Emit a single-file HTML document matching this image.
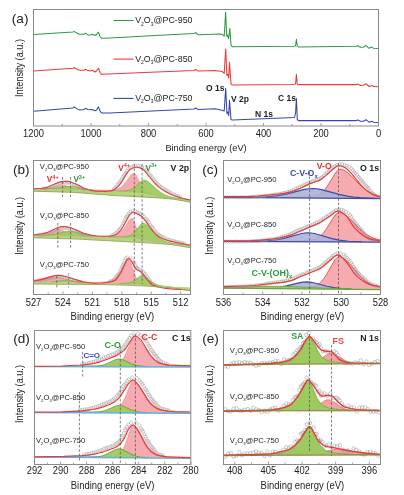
<!DOCTYPE html><html><head><meta charset="utf-8"><style>html,body{margin:0;padding:0;background:#fff;overflow:hidden}svg{display:block;filter:blur(0.4px)}</style></head><body><svg width="404" height="495" viewBox="0 0 404 495" font-family='"Liberation Sans", sans-serif'>
<rect width="404" height="495" fill="#ffffff"/>
<path d="M33.5,34.4 73,32 74,31.4 78,33.7 80,34.3 84,34.2 85.5,33.3 88,34.9 90.5,35.1 92.5,34.3 95,35.5 96.5,34.5 98.4,32.2 100,36.5 101.5,38.2 110,37.9 160,35.2 194,33.6 195.8,32.4 197.5,34.6 199,34.8 220,34.1 222.5,34.6 224.2,36.2 225.6,12.2 226.8,36.3 227.6,35.2 228.6,38.8 229.8,28.3 231,44.8 232.2,46.7 294.5,46.3 295.6,45.5 296.4,39.3 297.3,46.2 298.5,46.9 356,46.2 357.8,45.8 360.5,47.3 363.5,47.2 366,45.3 369,48.3 371.7,47.1 373.5,48.3 378.5,48.4" fill="none" stroke="#2f9a45" stroke-width="1.05" stroke-linejoin="round"/>
<path d="M33.5,70.9 73,68.3 74,67.5 78,69.8 80,70.3 84,70.3 85.5,69.3 88,70.6 90.5,70.9 92.5,70.3 95,72 96.5,71 98.5,68.3 100,72.5 101.5,74.3 194,70.5 195.8,69.3 197.5,70.9 199,71 215,70.5 222,71.4 224.2,73.4 225.7,49.1 226.9,75.6 227.8,74.1 228.7,78 229.5,62.3 231,83.9 232.2,85 294.5,84.4 295.6,83.5 296.4,74.2 297.3,84.3 298.5,84.6 356,84.6 357.8,84 360.5,85.5 363.5,85.3 366,83.6 369,86.5 371.7,85.4 373.5,86.6 378.5,86.7" fill="none" stroke="#ee3a36" stroke-width="1.05" stroke-linejoin="round"/>
<path d="M33.5,111.3 73,107.9 74,106.9 78,109.4 80,109.9 84,109.6 85.5,108.3 88,109.4 90.5,109.7 92.5,109.5 95,110.9 96.5,110 98.5,106.9 100,111 101.5,112.9 110,112.9 194,109 195.8,108 197.5,109.3 199,109.4 215,108.8 222,110.2 224.2,111 225.7,88.4 226.9,113.4 227.8,112 228.7,115.5 229.5,100.2 231,119.5 232.2,120 294.5,117.5 295.6,113 296.4,98.5 297.3,119.5 298.5,120.6 356,120.6 357.8,120 360.5,121.3 363.5,121.2 366,119.7 369,122.2 371.7,121.2 373.5,122.3 378.5,122.4" fill="none" stroke="#3547a8" stroke-width="1.05" stroke-linejoin="round"/>
<rect x="33.5" y="9.5" width="345" height="116.5" fill="none" stroke="#8a8a8a" stroke-width="1"/>
<path d="M62.25,126 v-2 M119.75,126 v-2 M177.25,126 v-2 M234.75,126 v-2 M292.25,126 v-2 M349.75,126 v-2 M33.5,126 v-3 M91,126 v-3 M148.5,126 v-3 M206,126 v-3 M263.5,126 v-3 M321,126 v-3 M378.5,126 v-3" stroke="#8a8a8a" stroke-width="0.8" fill="none"/>
<text transform="translate(33.5,136.9) scale(0.83,1)" font-size="11.3" fill="#222222" text-anchor="middle">1200</text>
<text transform="translate(91,136.9) scale(0.83,1)" font-size="11.3" fill="#222222" text-anchor="middle">1000</text>
<text transform="translate(148.5,136.9) scale(0.83,1)" font-size="11.3" fill="#222222" text-anchor="middle">800</text>
<text transform="translate(206,136.9) scale(0.83,1)" font-size="11.3" fill="#222222" text-anchor="middle">600</text>
<text transform="translate(263.5,136.9) scale(0.83,1)" font-size="11.3" fill="#222222" text-anchor="middle">400</text>
<text transform="translate(321,136.9) scale(0.83,1)" font-size="11.3" fill="#222222" text-anchor="middle">200</text>
<text transform="translate(378.5,136.9) scale(0.83,1)" font-size="11.3" fill="#222222" text-anchor="middle">0</text>
<path d="M113.5,20.5 H133.5" stroke="#2f9a45" stroke-width="1.1"/>
<text x="135.2" y="23.2" font-size="8.85" fill="#222222">V<tspan font-size="4.96" dy="2.3">2</tspan><tspan dy="-2.3">O</tspan><tspan font-size="4.96" dy="2.3">3</tspan><tspan dy="-2.3">@PC-950</tspan></text>
<path d="M113.5,59.1 H133.5" stroke="#ee3a36" stroke-width="1.1"/>
<text x="135.2" y="62" font-size="8.85" fill="#222222">V<tspan font-size="4.96" dy="2.3">2</tspan><tspan dy="-2.3">O</tspan><tspan font-size="4.96" dy="2.3">3</tspan><tspan dy="-2.3">@PC-850</tspan></text>
<path d="M113.5,98.4 H133.5" stroke="#3547a8" stroke-width="1.1"/>
<text x="135.2" y="101" font-size="8.85" fill="#222222">V<tspan font-size="4.96" dy="2.3">2</tspan><tspan dy="-2.3">O</tspan><tspan font-size="4.96" dy="2.3">3</tspan><tspan dy="-2.3">@PC-750</tspan></text>
<text x="206" y="90.8" font-size="8.5" fill="#222" text-anchor="start" font-weight="bold" >O 1s</text>
<text x="231" y="102.4" font-size="8.5" fill="#222" text-anchor="start" font-weight="bold" >V 2p</text>
<text x="278" y="100.6" font-size="8.5" fill="#222" text-anchor="start" font-weight="bold" >C 1s</text>
<text x="255" y="116.6" font-size="8.5" fill="#222" text-anchor="start" font-weight="bold" >N 1s</text>
<text x="206" y="150.6" font-size="9.2" fill="#222222" text-anchor="middle" font-weight="normal" >Binding energy (eV)</text>
<text x="11.8" y="22.9" font-size="13.6" fill="#222222" text-anchor="start" font-weight="normal" >(a)</text>
<text transform="translate(23.2,68) rotate(-90) scale(0.88,1)" font-size="10.4" fill="#222222" text-anchor="middle">Intensity (a.u.)</text>
<path d="M33.5,189 67,190.1 106.5,191 129.5,192.1 135.5,192.5 140,193.2 164.5,197.7 173,198.6 190.5,200 190.5,202.2 173.5,199.2 159,197.9 114,195.5 74,192.4 33.5,191.2Z" fill="#b2d67c" stroke="none"/>
<path d="M33.5,188.8 41,188.7 46.5,188.3 51,187.5 59,185.2 62.5,185 65.5,185.6 74.5,188.6 80.5,189.7 88,190.2 121,191.5 135,192.5 141.5,193.4 164.5,197.7 173,198.6 190.5,200 173.5,198.7 164.5,197.7 140,193.2 135.5,192.5 129.5,192.1 106.5,191 67,190.1 33.5,189Z" fill="#f5abb0" fill-opacity="1"/>
<path d="M36,188.8 42.5,188.7 47,188.2 51,187.5 58.5,185.3 62,185 65.5,185.6 73,188.1 77,189.1 81.5,189.8 88,190.2" fill="none" stroke="#ef8a8f" stroke-width="0.6"/>
<path d="M33.5,188.8 43.5,188.9 50.5,188.7 56.5,188.1 67,186.4 72,186.3 76,186.8 86,188.9 91.5,189.8 98.5,190.4 123.5,191.6 135.5,192.5 142,193.4 164,197.6 173,198.6 190.5,200 173.5,198.7 164.5,197.7 140,193.2 135.5,192.5 129.5,192.1 106.5,191 67,190.1 33.5,189Z" fill="#9dca5f" fill-opacity="0.95"/>
<path d="M40,188.9 46.5,188.9 52,188.6 57,188 66.5,186.5 71,186.2 75.5,186.7 84.5,188.7 89.5,189.5 95,190.1 101.5,190.5" fill="none" stroke="#72aa40" stroke-width="0.6"/>
<path d="M33.5,188.9 63,189.9 81.5,190.2 105.5,190.3 111,190.1 114.5,189.7 116.5,189.3 118.5,188.6 120.5,187.5 122,186.4 125,183.3 131,175.1 132.5,173.8 134,173.4 135,173.8 136.5,175.8 141,185 143,188.3 145.5,191.1 147,192.3 148.5,193.1 151,194.1 155.5,195.4 164,197.3 173.5,198.5 190.5,199.9 174.5,198.8 164.5,197.7 140,193.2 135.5,192.5 129.5,192.1 106.5,191 67,190.1 33.5,189Z" fill="#f5abb0" fill-opacity="1"/>
<path d="M90.5,190.3 110.5,190.1 115,189.7 118,188.8 120.5,187.5 123,185.5 125.5,182.6 131,175.1 132.5,173.8 134,173.4 135,173.8 136.5,175.8 140.5,184 142.5,187.6 144.5,190.2 146.5,191.9 149.5,193.5 153.5,194.9 160.5,196.6 166.5,197.7" fill="none" stroke="#ef8a8f" stroke-width="0.6"/>
<path d="M33.5,189 73.5,190.2 117,190.9 125.5,190.8 129.5,190.1 132.5,188.8 135.5,186.7 141.5,181 143,180.2 144,180.1 146,180.6 148.5,182.1 151,184.1 156.5,189.1 159.5,191.6 163,193.9 166,195.4 170,196.7 174.5,197.7 180,198.5 190.5,199.6 190.5,200 173.5,198.7 165,197.8 160.5,197.1 139.5,193.1 135.5,192.5 129,192 106.5,191 67,190.1 33.5,189Z" fill="#9dca5f" fill-opacity="0.95"/>
<path d="M110,190.8 124,190.9 127.5,190.5 130,189.9 132.5,188.8 134.5,187.5 141.5,181 143,180.2 144,180.1 146,180.6 148.5,182.1 151,184.1 156.5,189.1 159.5,191.6 163,193.9 166,195.4 170,196.7 174.5,197.7 180,198.5 190.5,199.6" fill="none" stroke="#72aa40" stroke-width="0.6"/>
<path d="M44.3,188.6a1.35,1.35 0 1,0 -2.7,0a1.35,1.35 0 1,0 2.7,0M46.3,188.4a1.35,1.35 0 1,0 -2.7,0a1.35,1.35 0 1,0 2.7,0M48.2,188.3a1.35,1.35 0 1,0 -2.7,0a1.35,1.35 0 1,0 2.7,0M50.2,187.6a1.35,1.35 0 1,0 -2.7,0a1.35,1.35 0 1,0 2.7,0M52.1,187.1a1.35,1.35 0 1,0 -2.7,0a1.35,1.35 0 1,0 2.7,0M54,186.5a1.35,1.35 0 1,0 -2.7,0a1.35,1.35 0 1,0 2.7,0M55.7,185.9a1.35,1.35 0 1,0 -2.7,0a1.35,1.35 0 1,0 2.7,0M57.4,185.2a1.35,1.35 0 1,0 -2.7,0a1.35,1.35 0 1,0 2.7,0M59.2,184.4a1.35,1.35 0 1,0 -2.7,0a1.35,1.35 0 1,0 2.7,0M60.9,183.7a1.35,1.35 0 1,0 -2.7,0a1.35,1.35 0 1,0 2.7,0M62.5,183.2a1.35,1.35 0 1,0 -2.7,0a1.35,1.35 0 1,0 2.7,0M64.1,183a1.35,1.35 0 1,0 -2.7,0a1.35,1.35 0 1,0 2.7,0M65.9,183a1.35,1.35 0 1,0 -2.7,0a1.35,1.35 0 1,0 2.7,0M67.7,183a1.35,1.35 0 1,0 -2.7,0a1.35,1.35 0 1,0 2.7,0M69.4,182.9a1.35,1.35 0 1,0 -2.7,0a1.35,1.35 0 1,0 2.7,0M71.1,183.2a1.35,1.35 0 1,0 -2.7,0a1.35,1.35 0 1,0 2.7,0M72.8,184a1.35,1.35 0 1,0 -2.7,0a1.35,1.35 0 1,0 2.7,0M74.6,184.8a1.35,1.35 0 1,0 -2.7,0a1.35,1.35 0 1,0 2.7,0M76.3,185.2a1.35,1.35 0 1,0 -2.7,0a1.35,1.35 0 1,0 2.7,0M77.9,186a1.35,1.35 0 1,0 -2.7,0a1.35,1.35 0 1,0 2.7,0M79.6,187a1.35,1.35 0 1,0 -2.7,0a1.35,1.35 0 1,0 2.7,0M81.3,187.4a1.35,1.35 0 1,0 -2.7,0a1.35,1.35 0 1,0 2.7,0M83.2,188.6a1.35,1.35 0 1,0 -2.7,0a1.35,1.35 0 1,0 2.7,0M85,189a1.35,1.35 0 1,0 -2.7,0a1.35,1.35 0 1,0 2.7,0M86.8,189.4a1.35,1.35 0 1,0 -2.7,0a1.35,1.35 0 1,0 2.7,0M115.1,189a1.35,1.35 0 1,0 -2.7,0a1.35,1.35 0 1,0 2.7,0M116.3,187.4a1.35,1.35 0 1,0 -2.7,0a1.35,1.35 0 1,0 2.7,0M117.6,186.4a1.35,1.35 0 1,0 -2.7,0a1.35,1.35 0 1,0 2.7,0M118.7,184.6a1.35,1.35 0 1,0 -2.7,0a1.35,1.35 0 1,0 2.7,0M119.9,183.2a1.35,1.35 0 1,0 -2.7,0a1.35,1.35 0 1,0 2.7,0M121,182a1.35,1.35 0 1,0 -2.7,0a1.35,1.35 0 1,0 2.7,0M122,180.4a1.35,1.35 0 1,0 -2.7,0a1.35,1.35 0 1,0 2.7,0M123,178.8a1.35,1.35 0 1,0 -2.7,0a1.35,1.35 0 1,0 2.7,0M124,176.8a1.35,1.35 0 1,0 -2.7,0a1.35,1.35 0 1,0 2.7,0M125,175.2a1.35,1.35 0 1,0 -2.7,0a1.35,1.35 0 1,0 2.7,0M126,173.7a1.35,1.35 0 1,0 -2.7,0a1.35,1.35 0 1,0 2.7,0M127,172.2a1.35,1.35 0 1,0 -2.7,0a1.35,1.35 0 1,0 2.7,0M128.1,170.6a1.35,1.35 0 1,0 -2.7,0a1.35,1.35 0 1,0 2.7,0M129.5,168.6a1.35,1.35 0 1,0 -2.7,0a1.35,1.35 0 1,0 2.7,0M131.2,167.5a1.35,1.35 0 1,0 -2.7,0a1.35,1.35 0 1,0 2.7,0M133,166.5a1.35,1.35 0 1,0 -2.7,0a1.35,1.35 0 1,0 2.7,0M134.9,165.8a1.35,1.35 0 1,0 -2.7,0a1.35,1.35 0 1,0 2.7,0M137.2,165.5a1.35,1.35 0 1,0 -2.7,0a1.35,1.35 0 1,0 2.7,0M139.5,165.7a1.35,1.35 0 1,0 -2.7,0a1.35,1.35 0 1,0 2.7,0M141.6,166a1.35,1.35 0 1,0 -2.7,0a1.35,1.35 0 1,0 2.7,0M143.6,166.9a1.35,1.35 0 1,0 -2.7,0a1.35,1.35 0 1,0 2.7,0M145.6,167.8a1.35,1.35 0 1,0 -2.7,0a1.35,1.35 0 1,0 2.7,0M147.5,170.1a1.35,1.35 0 1,0 -2.7,0a1.35,1.35 0 1,0 2.7,0M148.8,171.3a1.35,1.35 0 1,0 -2.7,0a1.35,1.35 0 1,0 2.7,0M150,172.6a1.35,1.35 0 1,0 -2.7,0a1.35,1.35 0 1,0 2.7,0M151.2,174.8a1.35,1.35 0 1,0 -2.7,0a1.35,1.35 0 1,0 2.7,0M152.3,175.8a1.35,1.35 0 1,0 -2.7,0a1.35,1.35 0 1,0 2.7,0M153.5,177a1.35,1.35 0 1,0 -2.7,0a1.35,1.35 0 1,0 2.7,0M154.7,178.9a1.35,1.35 0 1,0 -2.7,0a1.35,1.35 0 1,0 2.7,0M155.9,180a1.35,1.35 0 1,0 -2.7,0a1.35,1.35 0 1,0 2.7,0M157.1,181.8a1.35,1.35 0 1,0 -2.7,0a1.35,1.35 0 1,0 2.7,0M158.3,182.6a1.35,1.35 0 1,0 -2.7,0a1.35,1.35 0 1,0 2.7,0M159.6,184.2a1.35,1.35 0 1,0 -2.7,0a1.35,1.35 0 1,0 2.7,0M160.9,185.5a1.35,1.35 0 1,0 -2.7,0a1.35,1.35 0 1,0 2.7,0M162.3,186.6a1.35,1.35 0 1,0 -2.7,0a1.35,1.35 0 1,0 2.7,0M163.7,187.7a1.35,1.35 0 1,0 -2.7,0a1.35,1.35 0 1,0 2.7,0M165.3,188.5a1.35,1.35 0 1,0 -2.7,0a1.35,1.35 0 1,0 2.7,0M166.8,189.6a1.35,1.35 0 1,0 -2.7,0a1.35,1.35 0 1,0 2.7,0M168.4,190.4a1.35,1.35 0 1,0 -2.7,0a1.35,1.35 0 1,0 2.7,0M169.9,191.5a1.35,1.35 0 1,0 -2.7,0a1.35,1.35 0 1,0 2.7,0M171.5,192.3a1.35,1.35 0 1,0 -2.7,0a1.35,1.35 0 1,0 2.7,0M173.1,193.2a1.35,1.35 0 1,0 -2.7,0a1.35,1.35 0 1,0 2.7,0M174.7,194.2a1.35,1.35 0 1,0 -2.7,0a1.35,1.35 0 1,0 2.7,0M176.4,194.7a1.35,1.35 0 1,0 -2.7,0a1.35,1.35 0 1,0 2.7,0M178.2,195.6a1.35,1.35 0 1,0 -2.7,0a1.35,1.35 0 1,0 2.7,0M179.9,196.2a1.35,1.35 0 1,0 -2.7,0a1.35,1.35 0 1,0 2.7,0M181.7,196.9a1.35,1.35 0 1,0 -2.7,0a1.35,1.35 0 1,0 2.7,0" fill="none" stroke="#9a9a9a" stroke-width="0.45"/>
<path d="M33.5,188.8 42,188.2 46,187.6 48.5,186.8 54,184.3 60,181.9 62,181.5 67,181.3 70,181.7 75,183.5 77,184.4 84,188.2 88.5,189.7 92,190.6 96.5,191.1 105,191.4 108,191.2 112,190.6 113.5,190.1 115.5,188.8 120,184.3 121.5,182.2 124.5,177.1 127.5,172.4 129.5,170 131.5,168.7 133.5,167.7 135,167.3 136.5,167.2 138.5,167.5 140.5,168.1 142.5,168.9 143.5,169.7 145.5,171.8 149.5,177 155,183.5 159.5,187.6 164.5,191.1 169.5,193.8 175,196 181.5,198 190.5,200.3" fill="none" stroke="#e83a38" stroke-width="1.15" stroke-linejoin="round"/>
<path d="M33.5,191.2 74,192.4 114,195.5 159,197.9 173.5,199.2 190.5,202.2" fill="none" stroke="#86a04a" stroke-width="0.8"/>
<path d="M33.5,235.5 66.5,236.4 103,237 130,238.1 139,239 158.5,242.5 164.5,243.4 173,244.3 190.5,245.8 190.5,247.8 178,245.6 172,244.7 151.5,243.1 78,239.1 33.5,237.8Z" fill="#b2d67c" stroke="none"/>
<path d="M33.5,235.1 40,234.9 44.5,234.3 48.5,233.2 56,230.2 58,229.8 59.5,229.8 62.5,230.5 68.5,233.3 71.5,234.4 74.5,235.3 78,235.8 85,236.3 120.5,237.6 135,238.5 140,239.1 164,243.4 173,244.3 190.5,245.8 173.5,244.4 164.5,243.4 158.5,242.5 139,239 130,238.1 103,237 66.5,236.4 33.5,235.5Z" fill="#f5abb0" fill-opacity="1"/>
<path d="M33.5,235.1 40,234.9 44.5,234.3 48.5,233.2 56,230.2 57.5,229.8 59,229.8 60.5,229.9 62,230.3 69.5,233.7 74,235.2 79,236 86.5,236.4" fill="none" stroke="#ef8a8f" stroke-width="0.6"/>
<path d="M33.5,235.2 43.5,235.2 50.5,234.8 56.5,233.8 66.5,231.4 69,231.1 71.5,231 75.5,231.7 87,234.8 93,235.8 100,236.4 126,237.8 135.5,238.5 140,239.1 164,243.3 173,244.3 190.5,245.8 173.5,244.4 164.5,243.4 158.5,242.5 139,239 130,238.1 103,237 66.5,236.4 33.5,235.5Z" fill="#9dca5f" fill-opacity="0.95"/>
<path d="M35.5,235.3 44.5,235.2 51,234.7 56.5,233.8 66.5,231.4 69,231.1 71,231 75.5,231.7 85,234.3 90.5,235.4 96.5,236.2 106,236.8" fill="none" stroke="#72aa40" stroke-width="0.6"/>
<path d="M33.5,235.4 62,236.2 79.5,236.4 106,236.4 111,236.2 114,235.8 116,235.3 118,234.5 119.5,233.6 121,232.3 122.5,230.6 124,228.6 129.5,219.9 131,218.5 132,218.3 132.5,218.4 133.5,219.8 137,229.5 139,234 141,236.7 142,237.5 143.5,238.4 146,239.4 149.5,240.3 163,243 172.5,244.2 190.5,245.7 174,244.4 164.5,243.4 158.5,242.5 139,239 130,238.1 103,237 66.5,236.4 33.5,235.5Z" fill="#f5abb0" fill-opacity="1"/>
<path d="M91.5,236.5 110.5,236.2 114.5,235.7 117.5,234.7 120,233.2 122,231.2 124,228.6 129.5,219.9 131,218.5 132,218.3 132.5,218.4 133.5,219.8 138,232 139.5,234.8 141,236.7 143,238.1 145.5,239.2 149,240.2 156.5,241.9" fill="none" stroke="#ef8a8f" stroke-width="0.6"/>
<path d="M33.5,235.5 73,236.5 117,236.9 125.5,236.6 127.5,236.3 129.5,235.7 131,235 132.5,234 135,231.6 140.5,224.7 142,223.5 143,223.2 145,223.8 147,225.2 157.5,236.3 160.5,238.7 164,240.7 168,242.2 173,243.3 179,244.1 190.5,245.4 190.5,245.8 165,243.5 158.5,242.5 139,239 129.5,238.1 103,237 66.5,236.4 33.5,235.5Z" fill="#9dca5f" fill-opacity="0.95"/>
<path d="M108,236.8 123,236.8 126.5,236.5 129.5,235.7 131.5,234.7 133.5,233.1 135.5,231 140.5,224.7 142,223.5 143,223.2 145,223.8 147,225.2 157.5,236.3 160.5,238.7 164,240.7 168,242.2 173,243.3 179,244.1 190.5,245.4" fill="none" stroke="#72aa40" stroke-width="0.6"/>
<path d="M40.5,234.9a1.35,1.35 0 1,0 -2.7,0a1.35,1.35 0 1,0 2.7,0M42.4,234.8a1.35,1.35 0 1,0 -2.7,0a1.35,1.35 0 1,0 2.7,0M44.4,234.5a1.35,1.35 0 1,0 -2.7,0a1.35,1.35 0 1,0 2.7,0M46.3,234.2a1.35,1.35 0 1,0 -2.7,0a1.35,1.35 0 1,0 2.7,0M48.3,233.8a1.35,1.35 0 1,0 -2.7,0a1.35,1.35 0 1,0 2.7,0M50.3,233.3a1.35,1.35 0 1,0 -2.7,0a1.35,1.35 0 1,0 2.7,0M52.2,232.5a1.35,1.35 0 1,0 -2.7,0a1.35,1.35 0 1,0 2.7,0M53.9,231.7a1.35,1.35 0 1,0 -2.7,0a1.35,1.35 0 1,0 2.7,0M55.6,230.9a1.35,1.35 0 1,0 -2.7,0a1.35,1.35 0 1,0 2.7,0M57.3,230.1a1.35,1.35 0 1,0 -2.7,0a1.35,1.35 0 1,0 2.7,0M59,229.4a1.35,1.35 0 1,0 -2.7,0a1.35,1.35 0 1,0 2.7,0M60.7,228.8a1.35,1.35 0 1,0 -2.7,0a1.35,1.35 0 1,0 2.7,0M62.2,228.2a1.35,1.35 0 1,0 -2.7,0a1.35,1.35 0 1,0 2.7,0M63.8,228.1a1.35,1.35 0 1,0 -2.7,0a1.35,1.35 0 1,0 2.7,0M65.5,228.2a1.35,1.35 0 1,0 -2.7,0a1.35,1.35 0 1,0 2.7,0M67.4,228.5a1.35,1.35 0 1,0 -2.7,0a1.35,1.35 0 1,0 2.7,0M69.1,228.5a1.35,1.35 0 1,0 -2.7,0a1.35,1.35 0 1,0 2.7,0M70.8,229.1a1.35,1.35 0 1,0 -2.7,0a1.35,1.35 0 1,0 2.7,0M72.6,229.8a1.35,1.35 0 1,0 -2.7,0a1.35,1.35 0 1,0 2.7,0M74.4,230.4a1.35,1.35 0 1,0 -2.7,0a1.35,1.35 0 1,0 2.7,0M76.1,231.1a1.35,1.35 0 1,0 -2.7,0a1.35,1.35 0 1,0 2.7,0M77.8,231.7a1.35,1.35 0 1,0 -2.7,0a1.35,1.35 0 1,0 2.7,0M79.5,232.5a1.35,1.35 0 1,0 -2.7,0a1.35,1.35 0 1,0 2.7,0M81.2,233.3a1.35,1.35 0 1,0 -2.7,0a1.35,1.35 0 1,0 2.7,0M83,233.8a1.35,1.35 0 1,0 -2.7,0a1.35,1.35 0 1,0 2.7,0M84.9,234.7a1.35,1.35 0 1,0 -2.7,0a1.35,1.35 0 1,0 2.7,0M86.8,235.1a1.35,1.35 0 1,0 -2.7,0a1.35,1.35 0 1,0 2.7,0M88.7,235.2a1.35,1.35 0 1,0 -2.7,0a1.35,1.35 0 1,0 2.7,0M90.6,235.6a1.35,1.35 0 1,0 -2.7,0a1.35,1.35 0 1,0 2.7,0M92.5,235.9a1.35,1.35 0 1,0 -2.7,0a1.35,1.35 0 1,0 2.7,0M113.4,234.9a1.35,1.35 0 1,0 -2.7,0a1.35,1.35 0 1,0 2.7,0M115.1,234.5a1.35,1.35 0 1,0 -2.7,0a1.35,1.35 0 1,0 2.7,0M116.6,233.4a1.35,1.35 0 1,0 -2.7,0a1.35,1.35 0 1,0 2.7,0M117.9,232.2a1.35,1.35 0 1,0 -2.7,0a1.35,1.35 0 1,0 2.7,0M119.2,230.8a1.35,1.35 0 1,0 -2.7,0a1.35,1.35 0 1,0 2.7,0M120.4,229.7a1.35,1.35 0 1,0 -2.7,0a1.35,1.35 0 1,0 2.7,0M121.5,228.5a1.35,1.35 0 1,0 -2.7,0a1.35,1.35 0 1,0 2.7,0M122.5,227a1.35,1.35 0 1,0 -2.7,0a1.35,1.35 0 1,0 2.7,0M123.5,225.3a1.35,1.35 0 1,0 -2.7,0a1.35,1.35 0 1,0 2.7,0M124.4,223.4a1.35,1.35 0 1,0 -2.7,0a1.35,1.35 0 1,0 2.7,0M125.3,221.6a1.35,1.35 0 1,0 -2.7,0a1.35,1.35 0 1,0 2.7,0M126.2,219.7a1.35,1.35 0 1,0 -2.7,0a1.35,1.35 0 1,0 2.7,0M127,217.6a1.35,1.35 0 1,0 -2.7,0a1.35,1.35 0 1,0 2.7,0M127.9,216.4a1.35,1.35 0 1,0 -2.7,0a1.35,1.35 0 1,0 2.7,0M128.9,214.8a1.35,1.35 0 1,0 -2.7,0a1.35,1.35 0 1,0 2.7,0M130.1,213.3a1.35,1.35 0 1,0 -2.7,0a1.35,1.35 0 1,0 2.7,0M131.6,211.6a1.35,1.35 0 1,0 -2.7,0a1.35,1.35 0 1,0 2.7,0M134,210.5a1.35,1.35 0 1,0 -2.7,0a1.35,1.35 0 1,0 2.7,0M136.8,211.1a1.35,1.35 0 1,0 -2.7,0a1.35,1.35 0 1,0 2.7,0M138.7,211.9a1.35,1.35 0 1,0 -2.7,0a1.35,1.35 0 1,0 2.7,0M140.3,212.5a1.35,1.35 0 1,0 -2.7,0a1.35,1.35 0 1,0 2.7,0M142.2,213.9a1.35,1.35 0 1,0 -2.7,0a1.35,1.35 0 1,0 2.7,0M144,214.9a1.35,1.35 0 1,0 -2.7,0a1.35,1.35 0 1,0 2.7,0M145.6,216.5a1.35,1.35 0 1,0 -2.7,0a1.35,1.35 0 1,0 2.7,0M147,218.4a1.35,1.35 0 1,0 -2.7,0a1.35,1.35 0 1,0 2.7,0M148.3,219.6a1.35,1.35 0 1,0 -2.7,0a1.35,1.35 0 1,0 2.7,0M149.4,221.1a1.35,1.35 0 1,0 -2.7,0a1.35,1.35 0 1,0 2.7,0M150.6,222.5a1.35,1.35 0 1,0 -2.7,0a1.35,1.35 0 1,0 2.7,0M151.6,224.7a1.35,1.35 0 1,0 -2.7,0a1.35,1.35 0 1,0 2.7,0M152.7,226.1a1.35,1.35 0 1,0 -2.7,0a1.35,1.35 0 1,0 2.7,0M153.8,227.4a1.35,1.35 0 1,0 -2.7,0a1.35,1.35 0 1,0 2.7,0M154.9,228.8a1.35,1.35 0 1,0 -2.7,0a1.35,1.35 0 1,0 2.7,0M156,230.5a1.35,1.35 0 1,0 -2.7,0a1.35,1.35 0 1,0 2.7,0M157.2,231.8a1.35,1.35 0 1,0 -2.7,0a1.35,1.35 0 1,0 2.7,0M158.5,233.1a1.35,1.35 0 1,0 -2.7,0a1.35,1.35 0 1,0 2.7,0M159.8,234.3a1.35,1.35 0 1,0 -2.7,0a1.35,1.35 0 1,0 2.7,0M161.1,235a1.35,1.35 0 1,0 -2.7,0a1.35,1.35 0 1,0 2.7,0M162.5,235.9a1.35,1.35 0 1,0 -2.7,0a1.35,1.35 0 1,0 2.7,0M163.9,236.9a1.35,1.35 0 1,0 -2.7,0a1.35,1.35 0 1,0 2.7,0M165.5,237.5a1.35,1.35 0 1,0 -2.7,0a1.35,1.35 0 1,0 2.7,0M167.2,238.6a1.35,1.35 0 1,0 -2.7,0a1.35,1.35 0 1,0 2.7,0M168.9,239.1a1.35,1.35 0 1,0 -2.7,0a1.35,1.35 0 1,0 2.7,0M170.7,239.6a1.35,1.35 0 1,0 -2.7,0a1.35,1.35 0 1,0 2.7,0M172.5,240.2a1.35,1.35 0 1,0 -2.7,0a1.35,1.35 0 1,0 2.7,0M174.3,240.5a1.35,1.35 0 1,0 -2.7,0a1.35,1.35 0 1,0 2.7,0M176.1,241a1.35,1.35 0 1,0 -2.7,0a1.35,1.35 0 1,0 2.7,0M178,241.5a1.35,1.35 0 1,0 -2.7,0a1.35,1.35 0 1,0 2.7,0M179.8,241.9a1.35,1.35 0 1,0 -2.7,0a1.35,1.35 0 1,0 2.7,0M181.7,242.4a1.35,1.35 0 1,0 -2.7,0a1.35,1.35 0 1,0 2.7,0M183.5,242.6a1.35,1.35 0 1,0 -2.7,0a1.35,1.35 0 1,0 2.7,0M185.4,243.1a1.35,1.35 0 1,0 -2.7,0a1.35,1.35 0 1,0 2.7,0" fill="none" stroke="#9a9a9a" stroke-width="0.45"/>
<path d="M33.5,234.8 42,233.7 46,232.9 48.5,232 53.5,229.5 59,227.2 60.5,226.7 62,226.5 67,226.9 70,227.5 76,229.7 84,233.5 91.5,235.3 97,236 104.5,236.3 109,236.1 113.5,235.5 115,235 116.5,234.2 118.5,232.7 120.5,230.9 122.5,227.8 129,215.7 130,214.4 131.5,212.9 132.5,212.3 133,212.2 134.5,212.5 139,214.8 140.5,215.7 142,216.8 145.5,220.8 149.5,226.6 153.5,231.8 157,235.3 159.5,237.2 164,239.3 170,241.1 190.5,245.2" fill="none" stroke="#e83a38" stroke-width="1.15" stroke-linejoin="round"/>
<path d="M33.5,237.8 78,239.1 151.5,243.1 172,244.7 178,245.6 190.5,247.8" fill="none" stroke="#86a04a" stroke-width="0.8"/>
<path d="M33.5,281.8 70.5,282.4 96,283.2 128.5,283.9 138.5,284.4 165,286.8 190.5,288.2 190.5,290.6 177,288.6 170.5,287.8 150,286.3 131,285.3 103,284.6 33.5,284Z" fill="#b2d67c" stroke="none"/>
<path d="M33.5,280.1 48,277.1 51,276.8 54,276.7 59,277.4 68.5,279.8 73.5,280.9 78.5,281.6 84.5,282.3 96.5,283 120,283.5 135.5,284.2 164,286.7 190.5,288.2 165,286.8 138.5,284.4 128.5,283.9 96,283.2 70.5,282.4 33.5,281.8Z" fill="#f5abb0" fill-opacity="1"/>
<path d="M33.5,280.1 48,277.1 51,276.8 54,276.7 58.5,277.3 69.5,280 76,281.3 83.5,282.2 93.5,282.8" fill="none" stroke="#ef8a8f" stroke-width="0.6"/>
<path d="M33.5,281.7 51,281.7 56,281.4 64,280.4 67.5,280.4 70.5,280.7 79.5,282.1 86,282.7 98,283.2 121.5,283.6 135,284.2 164,286.7 190.5,288.2 165,286.8 138.5,284.4 128.5,283.9 96,283.2 70.5,282.4 33.5,281.8Z" fill="#9dca5f" fill-opacity="0.95"/>
<path d="M50.5,281.8 56,281.4 64,280.4 67,280.3 70,280.6 78,281.9 83,282.5" fill="none" stroke="#72aa40" stroke-width="0.6"/>
<path d="M33.5,281.7 93.5,282.5 102.5,282.2 106,281.9 108.5,281.4 110.5,280.8 112.5,279.9 114.5,278.5 116,277.1 117.5,275.3 119.5,272.4 125.5,261.8 127,260.1 128,259.5 128.5,259.4 129,259.5 129.5,259.9 130.5,261.8 134.5,273.8 136.5,278.2 138.5,281 139.5,281.8 141,282.7 143.5,283.6 147,284.4 159,286 170,286.9 190.5,288.1 165,286.8 138.5,284.4 128.5,283.9 96,283.2 70.5,282.4 33.5,281.8Z" fill="#f5abb0" fill-opacity="1"/>
<path d="M77.5,282.3 92.5,282.5 101.5,282.3 107.5,281.6 109.5,281.2 111.5,280.4 114.5,278.5 117,275.9 120,271.5 125.5,261.8 127,260.1 128,259.5 128.5,259.4 129,259.5 129.5,259.9 130.5,261.8 134,272.4 136,277.3 137.5,279.8 139,281.4 141.5,283 144.5,283.9 149.5,284.8 159,286" fill="none" stroke="#ef8a8f" stroke-width="0.6"/>
<path d="M33.5,281.8 70.5,282.4 99.5,283.2 126,283.2 129.5,282.7 132.5,281.7 135,280.2 139.5,276.5 141,275.8 142,275.7 143.5,276.1 145,276.9 150.5,281 153.5,283 156.5,284.4 159.5,285.3 163.5,286.1 169,286.7 190.5,288.1 190.5,288.2 165.5,286.8 138.5,284.4 128,283.9 96,283.2 70.5,282.4 33.5,281.8Z" fill="#9dca5f" fill-opacity="0.95"/>
<path d="M119.5,283.3 127,283.1 129,282.8 131,282.3 133,281.5 134.5,280.5 140,276.2 141,275.8 142,275.7 143.5,276.1 145,276.9 152,282 154,283.2 156.5,284.4 159.5,285.3 162.5,285.9 172,286.9" fill="none" stroke="#72aa40" stroke-width="0.6"/>
<path d="M40.6,281.1a1.35,1.35 0 1,0 -2.7,0a1.35,1.35 0 1,0 2.7,0M42.5,280.6a1.35,1.35 0 1,0 -2.7,0a1.35,1.35 0 1,0 2.7,0M44.4,280.2a1.35,1.35 0 1,0 -2.7,0a1.35,1.35 0 1,0 2.7,0M46.3,280a1.35,1.35 0 1,0 -2.7,0a1.35,1.35 0 1,0 2.7,0M48.3,279.4a1.35,1.35 0 1,0 -2.7,0a1.35,1.35 0 1,0 2.7,0M50.2,278.9a1.35,1.35 0 1,0 -2.7,0a1.35,1.35 0 1,0 2.7,0M51.9,278.6a1.35,1.35 0 1,0 -2.7,0a1.35,1.35 0 1,0 2.7,0M53.6,278a1.35,1.35 0 1,0 -2.7,0a1.35,1.35 0 1,0 2.7,0M55.4,277.6a1.35,1.35 0 1,0 -2.7,0a1.35,1.35 0 1,0 2.7,0M57.1,277.1a1.35,1.35 0 1,0 -2.7,0a1.35,1.35 0 1,0 2.7,0M58.8,276.9a1.35,1.35 0 1,0 -2.7,0a1.35,1.35 0 1,0 2.7,0M60.5,276.9a1.35,1.35 0 1,0 -2.7,0a1.35,1.35 0 1,0 2.7,0M62.3,277.2a1.35,1.35 0 1,0 -2.7,0a1.35,1.35 0 1,0 2.7,0M64.1,277.5a1.35,1.35 0 1,0 -2.7,0a1.35,1.35 0 1,0 2.7,0M65.9,278a1.35,1.35 0 1,0 -2.7,0a1.35,1.35 0 1,0 2.7,0M67.7,278.3a1.35,1.35 0 1,0 -2.7,0a1.35,1.35 0 1,0 2.7,0M69.5,278.7a1.35,1.35 0 1,0 -2.7,0a1.35,1.35 0 1,0 2.7,0M71.3,279.4a1.35,1.35 0 1,0 -2.7,0a1.35,1.35 0 1,0 2.7,0M73.1,279.8a1.35,1.35 0 1,0 -2.7,0a1.35,1.35 0 1,0 2.7,0M75,280.3a1.35,1.35 0 1,0 -2.7,0a1.35,1.35 0 1,0 2.7,0M76.9,280.8a1.35,1.35 0 1,0 -2.7,0a1.35,1.35 0 1,0 2.7,0M78.7,281.2a1.35,1.35 0 1,0 -2.7,0a1.35,1.35 0 1,0 2.7,0M80.6,281.6a1.35,1.35 0 1,0 -2.7,0a1.35,1.35 0 1,0 2.7,0M82.5,281.9a1.35,1.35 0 1,0 -2.7,0a1.35,1.35 0 1,0 2.7,0M110.9,281.4a1.35,1.35 0 1,0 -2.7,0a1.35,1.35 0 1,0 2.7,0M112.7,280.8a1.35,1.35 0 1,0 -2.7,0a1.35,1.35 0 1,0 2.7,0M114.4,279.9a1.35,1.35 0 1,0 -2.7,0a1.35,1.35 0 1,0 2.7,0M115.9,279.2a1.35,1.35 0 1,0 -2.7,0a1.35,1.35 0 1,0 2.7,0M116.8,277.4a1.35,1.35 0 1,0 -2.7,0a1.35,1.35 0 1,0 2.7,0M117.9,276.2a1.35,1.35 0 1,0 -2.7,0a1.35,1.35 0 1,0 2.7,0M119,274.9a1.35,1.35 0 1,0 -2.7,0a1.35,1.35 0 1,0 2.7,0M120,273.5a1.35,1.35 0 1,0 -2.7,0a1.35,1.35 0 1,0 2.7,0M120.9,271.7a1.35,1.35 0 1,0 -2.7,0a1.35,1.35 0 1,0 2.7,0M121.8,269.8a1.35,1.35 0 1,0 -2.7,0a1.35,1.35 0 1,0 2.7,0M122.6,267.7a1.35,1.35 0 1,0 -2.7,0a1.35,1.35 0 1,0 2.7,0M123.4,266.6a1.35,1.35 0 1,0 -2.7,0a1.35,1.35 0 1,0 2.7,0M124.2,264.3a1.35,1.35 0 1,0 -2.7,0a1.35,1.35 0 1,0 2.7,0M124.9,263.1a1.35,1.35 0 1,0 -2.7,0a1.35,1.35 0 1,0 2.7,0M125.7,260.6a1.35,1.35 0 1,0 -2.7,0a1.35,1.35 0 1,0 2.7,0M126.7,258.4a1.35,1.35 0 1,0 -2.7,0a1.35,1.35 0 1,0 2.7,0M128.4,257.2a1.35,1.35 0 1,0 -2.7,0a1.35,1.35 0 1,0 2.7,0M131.9,257.2a1.35,1.35 0 1,0 -2.7,0a1.35,1.35 0 1,0 2.7,0M134.1,260.6a1.35,1.35 0 1,0 -2.7,0a1.35,1.35 0 1,0 2.7,0M135.2,262.3a1.35,1.35 0 1,0 -2.7,0a1.35,1.35 0 1,0 2.7,0M136.1,263.1a1.35,1.35 0 1,0 -2.7,0a1.35,1.35 0 1,0 2.7,0M137,265.3a1.35,1.35 0 1,0 -2.7,0a1.35,1.35 0 1,0 2.7,0M137.8,267.1a1.35,1.35 0 1,0 -2.7,0a1.35,1.35 0 1,0 2.7,0M138.6,267.9a1.35,1.35 0 1,0 -2.7,0a1.35,1.35 0 1,0 2.7,0M139.4,268.6a1.35,1.35 0 1,0 -2.7,0a1.35,1.35 0 1,0 2.7,0M141.2,269.3a1.35,1.35 0 1,0 -2.7,0a1.35,1.35 0 1,0 2.7,0M143.2,270.3a1.35,1.35 0 1,0 -2.7,0a1.35,1.35 0 1,0 2.7,0M144.8,272a1.35,1.35 0 1,0 -2.7,0a1.35,1.35 0 1,0 2.7,0M146.2,273.6a1.35,1.35 0 1,0 -2.7,0a1.35,1.35 0 1,0 2.7,0M147.5,274.7a1.35,1.35 0 1,0 -2.7,0a1.35,1.35 0 1,0 2.7,0M148.7,276.9a1.35,1.35 0 1,0 -2.7,0a1.35,1.35 0 1,0 2.7,0M149.9,278a1.35,1.35 0 1,0 -2.7,0a1.35,1.35 0 1,0 2.7,0M150.9,280a1.35,1.35 0 1,0 -2.7,0a1.35,1.35 0 1,0 2.7,0M151.9,281.4a1.35,1.35 0 1,0 -2.7,0a1.35,1.35 0 1,0 2.7,0M152.7,283.1a1.35,1.35 0 1,0 -2.7,0a1.35,1.35 0 1,0 2.7,0" fill="none" stroke="#9a9a9a" stroke-width="0.45"/>
<path d="M33.5,281.4 44.5,278.9 51.5,276.4 55.5,275.5 58,275.3 61,275.6 66,276.5 82,281.6 84.5,282.1 89.5,282.8 94.5,283.2 101,283 106.5,282.6 111,281.8 113,281.2 115,280.4 116,279.7 117.5,278 121,272.5 126.5,260.4 127.5,259.1 129,258.5 129.5,258.7 130.5,259.8 132.5,263 135.5,268.8 136.5,269.6 139.5,271 141,272.1 144.5,276 147.5,279.8 150.5,283.2 152,284.5 153.5,285.3 158,287 164.5,288.3 173.5,289.1 190.5,290" fill="none" stroke="#e83a38" stroke-width="1.15" stroke-linejoin="round"/>
<path d="M157.5,285.6 169,286.5 190.5,287.6 190.5,290.6 173.5,288.1 157.5,286.8Z" fill="#b2d67c" stroke="none"/>
<path d="M33.5,284 103,284.6 131,285.3 150,286.3 170.5,287.8 177,288.6 190.5,290.6" fill="none" stroke="#86a04a" stroke-width="0.8"/>
<path d="M62.6,177 V198.5" stroke="#555" stroke-width="0.75" stroke-dasharray="2.6,1.8" fill="none"/>
<path d="M70.5,177 V198.5" stroke="#555" stroke-width="0.75" stroke-dasharray="2.6,1.8" fill="none"/>
<path d="M57.8,223 V247.7" stroke="#555" stroke-width="0.75" stroke-dasharray="2.6,1.8" fill="none"/>
<path d="M70.6,223 V247.7" stroke="#555" stroke-width="0.75" stroke-dasharray="2.6,1.8" fill="none"/>
<path d="M56.8,275.9 V287.7" stroke="#555" stroke-width="0.75" stroke-dasharray="2.6,1.8" fill="none"/>
<path d="M68.6,273 V287.7" stroke="#777" stroke-width="0.75" stroke-dasharray="2.6,1.8" fill="none"/>
<path d="M134.3,164 V284" stroke="#555" stroke-width="0.75" stroke-dasharray="2.6,1.8" fill="none"/>
<path d="M142.1,164 V284" stroke="#555" stroke-width="0.75" stroke-dasharray="2.6,1.8" fill="none"/>
<rect x="33.5" y="160.5" width="157" height="134" fill="none" stroke="#8a8a8a" stroke-width="1"/>
<path d="M48.22,294.5 v-2 M77.66,294.5 v-2 M107.09,294.5 v-2 M136.53,294.5 v-2 M165.97,294.5 v-2 M33.5,294.5 v-3 M62.94,294.5 v-3 M92.38,294.5 v-3 M121.81,294.5 v-3 M151.25,294.5 v-3 M180.69,294.5 v-3" stroke="#8a8a8a" stroke-width="0.8" fill="none"/>
<text transform="translate(33.5,305.8) scale(0.83,1)" font-size="11.3" fill="#222222" text-anchor="middle">527</text>
<text transform="translate(62.94,305.8) scale(0.83,1)" font-size="11.3" fill="#222222" text-anchor="middle">524</text>
<text transform="translate(92.38,305.8) scale(0.83,1)" font-size="11.3" fill="#222222" text-anchor="middle">521</text>
<text transform="translate(121.81,305.8) scale(0.83,1)" font-size="11.3" fill="#222222" text-anchor="middle">518</text>
<text transform="translate(151.25,305.8) scale(0.83,1)" font-size="11.3" fill="#222222" text-anchor="middle">515</text>
<text transform="translate(180.69,305.8) scale(0.83,1)" font-size="11.3" fill="#222222" text-anchor="middle">512</text>
<text x="39.8" y="169.2" font-size="7.6" fill="#222222">V<tspan font-size="4.26" dy="1.98">2</tspan><tspan dy="-1.98">O</tspan><tspan font-size="4.26" dy="1.98">3</tspan><tspan dy="-1.98">@PC-950</tspan></text>
<text x="39.8" y="218.2" font-size="7.6" fill="#222222">V<tspan font-size="4.26" dy="1.98">2</tspan><tspan dy="-1.98">O</tspan><tspan font-size="4.26" dy="1.98">3</tspan><tspan dy="-1.98">@PC-850</tspan></text>
<text x="39.8" y="266.8" font-size="7.6" fill="#222222">V<tspan font-size="4.26" dy="1.98">2</tspan><tspan dy="-1.98">O</tspan><tspan font-size="4.26" dy="1.98">3</tspan><tspan dy="-1.98">@PC-750</tspan></text>
<text x="46.8" y="182.2" font-size="8.2" font-weight="bold" fill="#e53030">V<tspan font-size="5.6" dy="-3.4">4+</tspan></text>
<text x="73.4" y="182.2" font-size="8.2" font-weight="bold" fill="#2e9a3e">V<tspan font-size="5.6" dy="-3.4">3+</tspan></text>
<text x="118.2" y="170.8" font-size="8.2" font-weight="bold" fill="#e53030">V<tspan font-size="5.6" dy="-3.4">4+</tspan></text>
<text x="145.5" y="170.8" font-size="8.2" font-weight="bold" fill="#2e9a3e">V<tspan font-size="5.6" dy="-3.4">3+</tspan></text>
<text x="170.6" y="170.6" font-size="8.8" fill="#222" text-anchor="start" font-weight="bold" >V 2p</text>
<text transform="translate(112.4,320.0) scale(0.92,1)" font-size="10.3" fill="#222222" text-anchor="middle">Binding energy (eV)</text>
<text x="13" y="173.5" font-size="13.6" fill="#222222" text-anchor="start" font-weight="normal" >(b)</text>
<text transform="translate(23.2,225.9) rotate(-90) scale(0.88,1)" font-size="10.4" fill="#222222" text-anchor="middle">Intensity (a.u.)</text>
<path d="M223.5,197.2 269.5,197.5 294.5,197.4 307.5,197 311.5,196.6 314.5,196.1 317,195.4 319.5,194.2 321.5,192.8 323.5,191 325.5,188.7 327.5,186 334,175.2 336,172.2 337.5,170.6 338.5,169.8 339.5,169.4 340.5,169.3 342,169.5 344,170.2 345.5,171 347.5,172.5 351,175.7 360.5,185.5 364,188.6 367,190.8 370,192.6 373.5,194.2 377,195.4 380.5,196.3 380.5,198.6 223.5,197.3Z" fill="#f5abb0" fill-opacity="1"/>
<path d="M281,197.5 298.5,197.3 308.5,196.9 314,196.2 316.5,195.5 318.5,194.7 320.5,193.5 322,192.4 325,189.4 328,185.2 334,175.2 336,172.2 338,170.1 339,169.5 340,169.3 341.5,169.4 343.5,170 345.5,171 347.5,172.5 351,175.7 360.5,185.5 364,188.6 367,190.8 370,192.6 373.5,194.2 377,195.4 380.5,196.3" fill="none" stroke="#e83a38" stroke-width="0.8"/>
<path d="M223.5,197.2 256,197.2 265,196.9 272,196.4 278.5,195.6 284.5,194.5 300.5,190.3 305,189.3 309,188.7 313,188.5 317,188.8 321.5,189.6 339.5,194.6 345,195.8 350,196.6 355.5,197.3 362,197.8 380.5,198.3 380.5,198.6 223.5,197.3Z" fill="#a9b0da" fill-opacity="0.88"/>
<path d="M250,197.2 265.5,196.9 276.5,195.9 286,194.1 304.5,189.4 309,188.7 313,188.5 317,188.8 321.5,189.6 339,194.4 348.5,196.4 354,197.1 360,197.6 375.5,198.3" fill="none" stroke="#3b4ba6" stroke-width="1.1"/>
<path d="M223.5,197.3 380.5,198.6" fill="none" stroke="#3b4ba6" stroke-width="1.2"/>
<path d="M226.8,197.3a1.5,1.5 0 1,0 -3,0a1.5,1.5 0 1,0 3,0M228.9,197.5a1.5,1.5 0 1,0 -3,0a1.5,1.5 0 1,0 3,0M231,197.4a1.5,1.5 0 1,0 -3,0a1.5,1.5 0 1,0 3,0M233.1,197.2a1.5,1.5 0 1,0 -3,0a1.5,1.5 0 1,0 3,0M235.2,197.2a1.5,1.5 0 1,0 -3,0a1.5,1.5 0 1,0 3,0M237.3,197.2a1.5,1.5 0 1,0 -3,0a1.5,1.5 0 1,0 3,0M239.4,197.4a1.5,1.5 0 1,0 -3,0a1.5,1.5 0 1,0 3,0M241.5,197.3a1.5,1.5 0 1,0 -3,0a1.5,1.5 0 1,0 3,0M243.6,197.1a1.5,1.5 0 1,0 -3,0a1.5,1.5 0 1,0 3,0M245.7,197.3a1.5,1.5 0 1,0 -3,0a1.5,1.5 0 1,0 3,0M247.8,197.3a1.5,1.5 0 1,0 -3,0a1.5,1.5 0 1,0 3,0M249.9,197.1a1.5,1.5 0 1,0 -3,0a1.5,1.5 0 1,0 3,0M252,197a1.5,1.5 0 1,0 -3,0a1.5,1.5 0 1,0 3,0M254.1,197a1.5,1.5 0 1,0 -3,0a1.5,1.5 0 1,0 3,0M256.2,196.7a1.5,1.5 0 1,0 -3,0a1.5,1.5 0 1,0 3,0M258.3,196.5a1.5,1.5 0 1,0 -3,0a1.5,1.5 0 1,0 3,0M260.4,196.6a1.5,1.5 0 1,0 -3,0a1.5,1.5 0 1,0 3,0M262.5,196.3a1.5,1.5 0 1,0 -3,0a1.5,1.5 0 1,0 3,0M264.6,196a1.5,1.5 0 1,0 -3,0a1.5,1.5 0 1,0 3,0M266.7,195.9a1.5,1.5 0 1,0 -3,0a1.5,1.5 0 1,0 3,0M268.8,195.5a1.5,1.5 0 1,0 -3,0a1.5,1.5 0 1,0 3,0M270.9,195.4a1.5,1.5 0 1,0 -3,0a1.5,1.5 0 1,0 3,0M273,195.1a1.5,1.5 0 1,0 -3,0a1.5,1.5 0 1,0 3,0M275,194.7a1.5,1.5 0 1,0 -3,0a1.5,1.5 0 1,0 3,0M277.1,194.4a1.5,1.5 0 1,0 -3,0a1.5,1.5 0 1,0 3,0M279.2,194.1a1.5,1.5 0 1,0 -3,0a1.5,1.5 0 1,0 3,0M281.3,193.7a1.5,1.5 0 1,0 -3,0a1.5,1.5 0 1,0 3,0M283.3,193.4a1.5,1.5 0 1,0 -3,0a1.5,1.5 0 1,0 3,0M285.4,192.8a1.5,1.5 0 1,0 -3,0a1.5,1.5 0 1,0 3,0M287.4,192.4a1.5,1.5 0 1,0 -3,0a1.5,1.5 0 1,0 3,0M289.4,191.8a1.5,1.5 0 1,0 -3,0a1.5,1.5 0 1,0 3,0M291.4,191.4a1.5,1.5 0 1,0 -3,0a1.5,1.5 0 1,0 3,0M293.4,190.5a1.5,1.5 0 1,0 -3,0a1.5,1.5 0 1,0 3,0M295.3,189.7a1.5,1.5 0 1,0 -3,0a1.5,1.5 0 1,0 3,0M297.2,188.8a1.5,1.5 0 1,0 -3,0a1.5,1.5 0 1,0 3,0M299.1,188a1.5,1.5 0 1,0 -3,0a1.5,1.5 0 1,0 3,0M301,187.1a1.5,1.5 0 1,0 -3,0a1.5,1.5 0 1,0 3,0M302.9,186.4a1.5,1.5 0 1,0 -3,0a1.5,1.5 0 1,0 3,0M304.7,185.3a1.5,1.5 0 1,0 -3,0a1.5,1.5 0 1,0 3,0M306.6,184.5a1.5,1.5 0 1,0 -3,0a1.5,1.5 0 1,0 3,0M308.5,183.5a1.5,1.5 0 1,0 -3,0a1.5,1.5 0 1,0 3,0M310.5,182.4a1.5,1.5 0 1,0 -3,0a1.5,1.5 0 1,0 3,0M312.5,181.7a1.5,1.5 0 1,0 -3,0a1.5,1.5 0 1,0 3,0M314.5,181a1.5,1.5 0 1,0 -3,0a1.5,1.5 0 1,0 3,0M316.5,180.3a1.5,1.5 0 1,0 -3,0a1.5,1.5 0 1,0 3,0M318.5,179.9a1.5,1.5 0 1,0 -3,0a1.5,1.5 0 1,0 3,0M320.3,179a1.5,1.5 0 1,0 -3,0a1.5,1.5 0 1,0 3,0M322,178a1.5,1.5 0 1,0 -3,0a1.5,1.5 0 1,0 3,0M323.6,177a1.5,1.5 0 1,0 -3,0a1.5,1.5 0 1,0 3,0M325.2,175.7a1.5,1.5 0 1,0 -3,0a1.5,1.5 0 1,0 3,0M326.8,173.9a1.5,1.5 0 1,0 -3,0a1.5,1.5 0 1,0 3,0M328.4,172.6a1.5,1.5 0 1,0 -3,0a1.5,1.5 0 1,0 3,0M330,171.3a1.5,1.5 0 1,0 -3,0a1.5,1.5 0 1,0 3,0M331.5,170a1.5,1.5 0 1,0 -3,0a1.5,1.5 0 1,0 3,0M333.1,168.4a1.5,1.5 0 1,0 -3,0a1.5,1.5 0 1,0 3,0M334.7,167.2a1.5,1.5 0 1,0 -3,0a1.5,1.5 0 1,0 3,0M336.5,166a1.5,1.5 0 1,0 -3,0a1.5,1.5 0 1,0 3,0M338.5,164.7a1.5,1.5 0 1,0 -3,0a1.5,1.5 0 1,0 3,0M341,164.3a1.5,1.5 0 1,0 -3,0a1.5,1.5 0 1,0 3,0M343.6,164.2a1.5,1.5 0 1,0 -3,0a1.5,1.5 0 1,0 3,0M345.9,164.8a1.5,1.5 0 1,0 -3,0a1.5,1.5 0 1,0 3,0M348.4,165.7a1.5,1.5 0 1,0 -3,0a1.5,1.5 0 1,0 3,0M350.8,166.8a1.5,1.5 0 1,0 -3,0a1.5,1.5 0 1,0 3,0M352.8,168.6a1.5,1.5 0 1,0 -3,0a1.5,1.5 0 1,0 3,0M354.3,170.2a1.5,1.5 0 1,0 -3,0a1.5,1.5 0 1,0 3,0M355.8,171.9a1.5,1.5 0 1,0 -3,0a1.5,1.5 0 1,0 3,0M357.2,173.1a1.5,1.5 0 1,0 -3,0a1.5,1.5 0 1,0 3,0M358.6,175a1.5,1.5 0 1,0 -3,0a1.5,1.5 0 1,0 3,0M360,176.8a1.5,1.5 0 1,0 -3,0a1.5,1.5 0 1,0 3,0M361.3,178.2a1.5,1.5 0 1,0 -3,0a1.5,1.5 0 1,0 3,0M362.6,180.1a1.5,1.5 0 1,0 -3,0a1.5,1.5 0 1,0 3,0M363.8,181.4a1.5,1.5 0 1,0 -3,0a1.5,1.5 0 1,0 3,0M365.1,182.8a1.5,1.5 0 1,0 -3,0a1.5,1.5 0 1,0 3,0M366.4,184.4a1.5,1.5 0 1,0 -3,0a1.5,1.5 0 1,0 3,0M367.7,185.9a1.5,1.5 0 1,0 -3,0a1.5,1.5 0 1,0 3,0M369.1,187a1.5,1.5 0 1,0 -3,0a1.5,1.5 0 1,0 3,0M370.4,188.4a1.5,1.5 0 1,0 -3,0a1.5,1.5 0 1,0 3,0M371.4,190.6a1.5,1.5 0 1,0 -3,0a1.5,1.5 0 1,0 3,0M372.8,192a1.5,1.5 0 1,0 -3,0a1.5,1.5 0 1,0 3,0M374.2,193.4a1.5,1.5 0 1,0 -3,0a1.5,1.5 0 1,0 3,0M375.9,194.4a1.5,1.5 0 1,0 -3,0a1.5,1.5 0 1,0 3,0M377.6,195.7a1.5,1.5 0 1,0 -3,0a1.5,1.5 0 1,0 3,0M379.5,196.5a1.5,1.5 0 1,0 -3,0a1.5,1.5 0 1,0 3,0" fill="none" stroke="#8f8f8f" stroke-width="0.45"/>
<path d="M223.5,196.6 250,196.4 258,196 278.5,194.1 285,193.1 290.5,191.9 294.5,190.6 300.5,188.2 310,183.6 317,181.3 320,180.1 322,178.8 325.5,175.9 334,168.3 337,166.3 338,165.9 339,165.7 341,166 343,166.7 345.5,167.9 347,169 352,174.1 361,185.1 364,188.1 367.5,191.1 370,192.8 373.5,194.7 376,195.8 380.5,197.2" fill="none" stroke="#e83a38" stroke-width="1.2" stroke-linejoin="round"/>
<path d="M223.5,241.2 267.5,241.3 292.5,241.2 305.5,240.7 309.5,240.4 312.5,239.8 315,239.1 317.5,237.9 320,236.2 322,234.4 324,232.2 326,229.5 332.5,218.9 335,215.3 336.5,213.7 337.5,213 338.5,212.6 339.5,212.5 341,212.7 343,213.4 344.5,214.2 346.5,215.6 350,218.8 360,229.1 363.5,232.2 366.5,234.4 369.5,236.2 373,237.8 376.5,239 380.5,239.9 380.5,242.2 223.5,241.3Z" fill="#f5abb0" fill-opacity="1"/>
<path d="M276.5,241.3 295.5,241.1 306,240.7 312,239.9 314.5,239.2 316.5,238.4 318.5,237.3 320.5,235.8 324,232.2 327,227.9 333,218.1 335.5,214.7 337.5,213 338.5,212.6 339.5,212.5 341,212.7 343,213.4 344.5,214.2 346.5,215.6 350,218.8 360,229.1 363.5,232.2 366.5,234.4 369.5,236.2 373,237.8 376.5,239 380.5,239.9" fill="none" stroke="#e83a38" stroke-width="0.8"/>
<path d="M223.5,241.2 257,241.1 265,240.9 271.5,240.4 277.5,239.7 283,238.6 301,233.5 304.5,233 308,232.8 311.5,233 315,233.7 332,238.7 337,239.8 342.5,240.7 348.5,241.2 355.5,241.6 380.5,242 380.5,242.2 223.5,241.3Z" fill="#a9b0da" fill-opacity="0.88"/>
<path d="M254.5,241.2 267.5,240.8 277,239.7 285,238.1 300.5,233.7 304.5,233 308,232.8 311.5,233 315.5,233.8 331,238.4 339,240.1 348.5,241.2 361.5,241.8" fill="none" stroke="#3b4ba6" stroke-width="1.1"/>
<path d="M223.5,241.3 380.5,242.2" fill="none" stroke="#3b4ba6" stroke-width="1.2"/>
<path d="M226.8,241.6a1.5,1.5 0 1,0 -3,0a1.5,1.5 0 1,0 3,0M228.9,241.5a1.5,1.5 0 1,0 -3,0a1.5,1.5 0 1,0 3,0M231,241.6a1.5,1.5 0 1,0 -3,0a1.5,1.5 0 1,0 3,0M233.1,241.7a1.5,1.5 0 1,0 -3,0a1.5,1.5 0 1,0 3,0M235.2,241.7a1.5,1.5 0 1,0 -3,0a1.5,1.5 0 1,0 3,0M237.3,241.4a1.5,1.5 0 1,0 -3,0a1.5,1.5 0 1,0 3,0M239.4,241.6a1.5,1.5 0 1,0 -3,0a1.5,1.5 0 1,0 3,0M241.5,241.5a1.5,1.5 0 1,0 -3,0a1.5,1.5 0 1,0 3,0M243.6,241.4a1.5,1.5 0 1,0 -3,0a1.5,1.5 0 1,0 3,0M245.7,241.6a1.5,1.5 0 1,0 -3,0a1.5,1.5 0 1,0 3,0M247.8,241.5a1.5,1.5 0 1,0 -3,0a1.5,1.5 0 1,0 3,0M249.9,241.3a1.5,1.5 0 1,0 -3,0a1.5,1.5 0 1,0 3,0M252,241.5a1.5,1.5 0 1,0 -3,0a1.5,1.5 0 1,0 3,0M254.1,241.2a1.5,1.5 0 1,0 -3,0a1.5,1.5 0 1,0 3,0M256.2,241.2a1.5,1.5 0 1,0 -3,0a1.5,1.5 0 1,0 3,0M258.3,241.2a1.5,1.5 0 1,0 -3,0a1.5,1.5 0 1,0 3,0M260.4,240.9a1.5,1.5 0 1,0 -3,0a1.5,1.5 0 1,0 3,0M262.5,240.6a1.5,1.5 0 1,0 -3,0a1.5,1.5 0 1,0 3,0M264.6,240.4a1.5,1.5 0 1,0 -3,0a1.5,1.5 0 1,0 3,0M266.7,240.2a1.5,1.5 0 1,0 -3,0a1.5,1.5 0 1,0 3,0M268.8,239.9a1.5,1.5 0 1,0 -3,0a1.5,1.5 0 1,0 3,0M270.9,239.6a1.5,1.5 0 1,0 -3,0a1.5,1.5 0 1,0 3,0M273,239.3a1.5,1.5 0 1,0 -3,0a1.5,1.5 0 1,0 3,0M275.1,239.1a1.5,1.5 0 1,0 -3,0a1.5,1.5 0 1,0 3,0M277.1,238.5a1.5,1.5 0 1,0 -3,0a1.5,1.5 0 1,0 3,0M279.2,238.2a1.5,1.5 0 1,0 -3,0a1.5,1.5 0 1,0 3,0M281.2,237.7a1.5,1.5 0 1,0 -3,0a1.5,1.5 0 1,0 3,0M283.2,236.8a1.5,1.5 0 1,0 -3,0a1.5,1.5 0 1,0 3,0M285.2,236.3a1.5,1.5 0 1,0 -3,0a1.5,1.5 0 1,0 3,0M287.2,235.7a1.5,1.5 0 1,0 -3,0a1.5,1.5 0 1,0 3,0M289.2,235a1.5,1.5 0 1,0 -3,0a1.5,1.5 0 1,0 3,0M291.2,234.2a1.5,1.5 0 1,0 -3,0a1.5,1.5 0 1,0 3,0M293.1,233.6a1.5,1.5 0 1,0 -3,0a1.5,1.5 0 1,0 3,0M294.9,232.5a1.5,1.5 0 1,0 -3,0a1.5,1.5 0 1,0 3,0M296.8,231.7a1.5,1.5 0 1,0 -3,0a1.5,1.5 0 1,0 3,0M298.7,230.6a1.5,1.5 0 1,0 -3,0a1.5,1.5 0 1,0 3,0M300.7,229.9a1.5,1.5 0 1,0 -3,0a1.5,1.5 0 1,0 3,0M302.6,229.1a1.5,1.5 0 1,0 -3,0a1.5,1.5 0 1,0 3,0M304.6,228.5a1.5,1.5 0 1,0 -3,0a1.5,1.5 0 1,0 3,0M306.5,227.5a1.5,1.5 0 1,0 -3,0a1.5,1.5 0 1,0 3,0M308.4,226.6a1.5,1.5 0 1,0 -3,0a1.5,1.5 0 1,0 3,0M310.4,225.9a1.5,1.5 0 1,0 -3,0a1.5,1.5 0 1,0 3,0M312.3,225.2a1.5,1.5 0 1,0 -3,0a1.5,1.5 0 1,0 3,0M314.3,224.4a1.5,1.5 0 1,0 -3,0a1.5,1.5 0 1,0 3,0M316.2,223.6a1.5,1.5 0 1,0 -3,0a1.5,1.5 0 1,0 3,0M318.1,222.7a1.5,1.5 0 1,0 -3,0a1.5,1.5 0 1,0 3,0M320,222a1.5,1.5 0 1,0 -3,0a1.5,1.5 0 1,0 3,0M321.8,220.9a1.5,1.5 0 1,0 -3,0a1.5,1.5 0 1,0 3,0M323.5,219.7a1.5,1.5 0 1,0 -3,0a1.5,1.5 0 1,0 3,0M325.2,218.5a1.5,1.5 0 1,0 -3,0a1.5,1.5 0 1,0 3,0M327,217.1a1.5,1.5 0 1,0 -3,0a1.5,1.5 0 1,0 3,0M328.7,216.2a1.5,1.5 0 1,0 -3,0a1.5,1.5 0 1,0 3,0M330.4,215.1a1.5,1.5 0 1,0 -3,0a1.5,1.5 0 1,0 3,0M332.1,213.7a1.5,1.5 0 1,0 -3,0a1.5,1.5 0 1,0 3,0M333.7,212.7a1.5,1.5 0 1,0 -3,0a1.5,1.5 0 1,0 3,0M335.4,211.4a1.5,1.5 0 1,0 -3,0a1.5,1.5 0 1,0 3,0M337.5,210.1a1.5,1.5 0 1,0 -3,0a1.5,1.5 0 1,0 3,0M340.1,209.3a1.5,1.5 0 1,0 -3,0a1.5,1.5 0 1,0 3,0M343,209.6a1.5,1.5 0 1,0 -3,0a1.5,1.5 0 1,0 3,0M345.4,210.4a1.5,1.5 0 1,0 -3,0a1.5,1.5 0 1,0 3,0M347.4,211.7a1.5,1.5 0 1,0 -3,0a1.5,1.5 0 1,0 3,0M349.8,213.1a1.5,1.5 0 1,0 -3,0a1.5,1.5 0 1,0 3,0M351.6,215.2a1.5,1.5 0 1,0 -3,0a1.5,1.5 0 1,0 3,0M352.9,216.9a1.5,1.5 0 1,0 -3,0a1.5,1.5 0 1,0 3,0M354.1,219.5a1.5,1.5 0 1,0 -3,0a1.5,1.5 0 1,0 3,0M355.3,220.9a1.5,1.5 0 1,0 -3,0a1.5,1.5 0 1,0 3,0M356.3,222.4a1.5,1.5 0 1,0 -3,0a1.5,1.5 0 1,0 3,0M357.4,223.9a1.5,1.5 0 1,0 -3,0a1.5,1.5 0 1,0 3,0M358.4,225.6a1.5,1.5 0 1,0 -3,0a1.5,1.5 0 1,0 3,0M359.6,226.4a1.5,1.5 0 1,0 -3,0a1.5,1.5 0 1,0 3,0M360.9,227.9a1.5,1.5 0 1,0 -3,0a1.5,1.5 0 1,0 3,0M362.3,229.3a1.5,1.5 0 1,0 -3,0a1.5,1.5 0 1,0 3,0M363.7,230.7a1.5,1.5 0 1,0 -3,0a1.5,1.5 0 1,0 3,0M364.8,232.5a1.5,1.5 0 1,0 -3,0a1.5,1.5 0 1,0 3,0M366,234a1.5,1.5 0 1,0 -3,0a1.5,1.5 0 1,0 3,0M367.4,235.8a1.5,1.5 0 1,0 -3,0a1.5,1.5 0 1,0 3,0M369,236.8a1.5,1.5 0 1,0 -3,0a1.5,1.5 0 1,0 3,0M370.7,238.1a1.5,1.5 0 1,0 -3,0a1.5,1.5 0 1,0 3,0M372.5,239.1a1.5,1.5 0 1,0 -3,0a1.5,1.5 0 1,0 3,0M374.4,239.8a1.5,1.5 0 1,0 -3,0a1.5,1.5 0 1,0 3,0M376.5,240.2a1.5,1.5 0 1,0 -3,0a1.5,1.5 0 1,0 3,0M378.6,240.6a1.5,1.5 0 1,0 -3,0a1.5,1.5 0 1,0 3,0" fill="none" stroke="#8f8f8f" stroke-width="0.45"/>
<path d="M223.5,240.8 250.5,240.6 260.5,240.1 274,238.8 279.5,237.8 286,236.3 290.5,235.1 293,234.2 318.5,223.4 321,222 324,220.1 330.5,215.7 335,212.1 336.5,211.3 338,211 339.5,211.2 341,211.9 343.5,213.5 346,215.5 348,218 352.5,225.1 354.5,227.9 358.5,231.8 362.5,235 366.5,237.4 370.5,239.1 374,239.9 380.5,240.8" fill="none" stroke="#e83a38" stroke-width="1.2" stroke-linejoin="round"/>
<path d="M223.5,288.1 267.5,288.3 292.5,288.2 305.5,287.8 309.5,287.4 312.5,286.8 315,286 317.5,284.7 320,282.9 322,280.9 324,278.4 326,275.4 332.5,263.8 335,259.8 336.5,258.1 337.5,257.3 338.5,256.8 339.5,256.7 341,257 343,257.8 344.5,258.8 346.5,260.4 349.5,263.6 359.5,275.3 363,278.8 366,281.2 369,283.2 372.5,285 376.5,286.4 380.5,287.3 380.5,289.6 223.5,288.2Z" fill="#f5abb0" fill-opacity="1"/>
<path d="M273.5,288.3 293.5,288.2 305,287.8 311.5,287 314,286.3 316,285.5 318,284.4 319.5,283.3 321.5,281.4 323,279.7 326.5,274.6 332.5,263.8 335,259.8 336.5,258.1 337.5,257.3 338.5,256.8 339.5,256.7 341,257 343,257.8 344.5,258.8 346.5,260.4 349.5,263.6 359.5,275.3 363,278.8 366,281.2 369,283.2 372.5,285 376.5,286.4 380.5,287.3" fill="none" stroke="#e83a38" stroke-width="0.8"/>
<path d="M223.5,288.1 259,288.3 267,288.1 273.5,287.8 279,287.3 284,286.5 301,282.5 304,282.1 307,281.9 310,282.1 313,282.6 329,286.7 334,287.6 339,288.3 345,288.8 352,289.1 380.5,289.5 223.5,288.2Z" fill="#a9b0da" fill-opacity="0.88"/>
<path d="M262.5,288.2 272.5,287.9 280,287.1 286.5,285.9 300,282.6 303.5,282.1 307,281.9 310,282.1 313.5,282.7 327,286.2 334,287.6 341.5,288.5 351.5,289" fill="none" stroke="#3b4ba6" stroke-width="1.1"/>
<path d="M223.5,287.5 263.5,286.4 280,286.3 294.5,286.7 339.5,288.7 380.5,289.5 223.5,288.2Z" fill="#9dca5f" fill-opacity="0.95"/>
<path d="M223.5,287.5 263,286.4 279.5,286.3 293,286.7 328.5,288.3 350,289" fill="none" stroke="#72aa40" stroke-width="0.9"/>
<path d="M223.5,288.2 380.5,289.6" fill="none" stroke="#6aa63a" stroke-width="1.2"/>
<path d="M226.8,286.9a1.5,1.5 0 1,0 -3,0a1.5,1.5 0 1,0 3,0M228.9,287a1.5,1.5 0 1,0 -3,0a1.5,1.5 0 1,0 3,0M231,286.9a1.5,1.5 0 1,0 -3,0a1.5,1.5 0 1,0 3,0M233.1,286.7a1.5,1.5 0 1,0 -3,0a1.5,1.5 0 1,0 3,0M235.2,286.7a1.5,1.5 0 1,0 -3,0a1.5,1.5 0 1,0 3,0M237.3,286.8a1.5,1.5 0 1,0 -3,0a1.5,1.5 0 1,0 3,0M239.4,286.5a1.5,1.5 0 1,0 -3,0a1.5,1.5 0 1,0 3,0M241.5,286.6a1.5,1.5 0 1,0 -3,0a1.5,1.5 0 1,0 3,0M243.6,286.4a1.5,1.5 0 1,0 -3,0a1.5,1.5 0 1,0 3,0M245.7,286.3a1.5,1.5 0 1,0 -3,0a1.5,1.5 0 1,0 3,0M247.8,286.3a1.5,1.5 0 1,0 -3,0a1.5,1.5 0 1,0 3,0M249.9,286.1a1.5,1.5 0 1,0 -3,0a1.5,1.5 0 1,0 3,0M252,286a1.5,1.5 0 1,0 -3,0a1.5,1.5 0 1,0 3,0M254.1,285.9a1.5,1.5 0 1,0 -3,0a1.5,1.5 0 1,0 3,0M256.2,285.7a1.5,1.5 0 1,0 -3,0a1.5,1.5 0 1,0 3,0M258.3,285.2a1.5,1.5 0 1,0 -3,0a1.5,1.5 0 1,0 3,0M260.4,285.1a1.5,1.5 0 1,0 -3,0a1.5,1.5 0 1,0 3,0M262.4,284.8a1.5,1.5 0 1,0 -3,0a1.5,1.5 0 1,0 3,0M264.5,284.4a1.5,1.5 0 1,0 -3,0a1.5,1.5 0 1,0 3,0M266.6,284a1.5,1.5 0 1,0 -3,0a1.5,1.5 0 1,0 3,0M268.7,283.7a1.5,1.5 0 1,0 -3,0a1.5,1.5 0 1,0 3,0M270.7,283.2a1.5,1.5 0 1,0 -3,0a1.5,1.5 0 1,0 3,0M272.8,282.9a1.5,1.5 0 1,0 -3,0a1.5,1.5 0 1,0 3,0M274.9,282.6a1.5,1.5 0 1,0 -3,0a1.5,1.5 0 1,0 3,0M277,282.5a1.5,1.5 0 1,0 -3,0a1.5,1.5 0 1,0 3,0M279.1,282.1a1.5,1.5 0 1,0 -3,0a1.5,1.5 0 1,0 3,0M281.1,281.7a1.5,1.5 0 1,0 -3,0a1.5,1.5 0 1,0 3,0M283.2,281.3a1.5,1.5 0 1,0 -3,0a1.5,1.5 0 1,0 3,0M285.2,281.2a1.5,1.5 0 1,0 -3,0a1.5,1.5 0 1,0 3,0M287.3,280.8a1.5,1.5 0 1,0 -3,0a1.5,1.5 0 1,0 3,0M289.3,280.3a1.5,1.5 0 1,0 -3,0a1.5,1.5 0 1,0 3,0M291.3,279.6a1.5,1.5 0 1,0 -3,0a1.5,1.5 0 1,0 3,0M293.2,279a1.5,1.5 0 1,0 -3,0a1.5,1.5 0 1,0 3,0M295.1,278.3a1.5,1.5 0 1,0 -3,0a1.5,1.5 0 1,0 3,0M296.9,277.4a1.5,1.5 0 1,0 -3,0a1.5,1.5 0 1,0 3,0M298.8,276.3a1.5,1.5 0 1,0 -3,0a1.5,1.5 0 1,0 3,0M300.8,275.5a1.5,1.5 0 1,0 -3,0a1.5,1.5 0 1,0 3,0M302.7,274.6a1.5,1.5 0 1,0 -3,0a1.5,1.5 0 1,0 3,0M304.7,274.2a1.5,1.5 0 1,0 -3,0a1.5,1.5 0 1,0 3,0M306.6,273.4a1.5,1.5 0 1,0 -3,0a1.5,1.5 0 1,0 3,0M308.6,272.4a1.5,1.5 0 1,0 -3,0a1.5,1.5 0 1,0 3,0M310.5,271.5a1.5,1.5 0 1,0 -3,0a1.5,1.5 0 1,0 3,0M312.5,270.9a1.5,1.5 0 1,0 -3,0a1.5,1.5 0 1,0 3,0M314.5,270a1.5,1.5 0 1,0 -3,0a1.5,1.5 0 1,0 3,0M316.4,269.3a1.5,1.5 0 1,0 -3,0a1.5,1.5 0 1,0 3,0M318.3,268.4a1.5,1.5 0 1,0 -3,0a1.5,1.5 0 1,0 3,0M320.1,267.6a1.5,1.5 0 1,0 -3,0a1.5,1.5 0 1,0 3,0M321.9,266.8a1.5,1.5 0 1,0 -3,0a1.5,1.5 0 1,0 3,0M323.5,265.4a1.5,1.5 0 1,0 -3,0a1.5,1.5 0 1,0 3,0M325.1,264.1a1.5,1.5 0 1,0 -3,0a1.5,1.5 0 1,0 3,0M326.7,262.8a1.5,1.5 0 1,0 -3,0a1.5,1.5 0 1,0 3,0M328.2,261.3a1.5,1.5 0 1,0 -3,0a1.5,1.5 0 1,0 3,0M329.8,260a1.5,1.5 0 1,0 -3,0a1.5,1.5 0 1,0 3,0M331.5,258.4a1.5,1.5 0 1,0 -3,0a1.5,1.5 0 1,0 3,0M333,257.2a1.5,1.5 0 1,0 -3,0a1.5,1.5 0 1,0 3,0M334.6,255.7a1.5,1.5 0 1,0 -3,0a1.5,1.5 0 1,0 3,0M336.4,254.4a1.5,1.5 0 1,0 -3,0a1.5,1.5 0 1,0 3,0M338.8,253.5a1.5,1.5 0 1,0 -3,0a1.5,1.5 0 1,0 3,0M342,253.1a1.5,1.5 0 1,0 -3,0a1.5,1.5 0 1,0 3,0M345.1,254.4a1.5,1.5 0 1,0 -3,0a1.5,1.5 0 1,0 3,0M346.9,256a1.5,1.5 0 1,0 -3,0a1.5,1.5 0 1,0 3,0M348.4,257.6a1.5,1.5 0 1,0 -3,0a1.5,1.5 0 1,0 3,0M350,259.3a1.5,1.5 0 1,0 -3,0a1.5,1.5 0 1,0 3,0M351.4,260.8a1.5,1.5 0 1,0 -3,0a1.5,1.5 0 1,0 3,0M352.8,263.1a1.5,1.5 0 1,0 -3,0a1.5,1.5 0 1,0 3,0M354,264.5a1.5,1.5 0 1,0 -3,0a1.5,1.5 0 1,0 3,0M355.2,266.8a1.5,1.5 0 1,0 -3,0a1.5,1.5 0 1,0 3,0M356.3,268.5a1.5,1.5 0 1,0 -3,0a1.5,1.5 0 1,0 3,0M357.4,269.5a1.5,1.5 0 1,0 -3,0a1.5,1.5 0 1,0 3,0M358.5,271.4a1.5,1.5 0 1,0 -3,0a1.5,1.5 0 1,0 3,0M359.7,272.8a1.5,1.5 0 1,0 -3,0a1.5,1.5 0 1,0 3,0M361,274.1a1.5,1.5 0 1,0 -3,0a1.5,1.5 0 1,0 3,0M362.4,275.7a1.5,1.5 0 1,0 -3,0a1.5,1.5 0 1,0 3,0M363.8,277a1.5,1.5 0 1,0 -3,0a1.5,1.5 0 1,0 3,0M365.2,278.1a1.5,1.5 0 1,0 -3,0a1.5,1.5 0 1,0 3,0M366.6,279.3a1.5,1.5 0 1,0 -3,0a1.5,1.5 0 1,0 3,0M367.8,280.9a1.5,1.5 0 1,0 -3,0a1.5,1.5 0 1,0 3,0M369.4,282a1.5,1.5 0 1,0 -3,0a1.5,1.5 0 1,0 3,0M371.1,283.3a1.5,1.5 0 1,0 -3,0a1.5,1.5 0 1,0 3,0M373,284a1.5,1.5 0 1,0 -3,0a1.5,1.5 0 1,0 3,0M374.9,285a1.5,1.5 0 1,0 -3,0a1.5,1.5 0 1,0 3,0M376.9,285.5a1.5,1.5 0 1,0 -3,0a1.5,1.5 0 1,0 3,0M378.9,285.9a1.5,1.5 0 1,0 -3,0a1.5,1.5 0 1,0 3,0" fill="none" stroke="#8f8f8f" stroke-width="0.45"/>
<path d="M223.5,286.6 244.5,286 254.5,285.5 282,282.3 287,281.6 291,280.7 294,279.6 300,276.8 316.5,270.2 320,268.6 323,266.5 334.5,256.5 336.5,255.2 338,254.9 339,255.1 340.5,255.9 345.5,260.9 347.5,263.4 354,273 358,277.1 362,280.4 365.5,282.6 370,284.4 373.5,285.3 380.5,286.5" fill="none" stroke="#e83a38" stroke-width="1.2" stroke-linejoin="round"/>
<path d="M309.6,172 V294" stroke="#555" stroke-width="0.75" stroke-dasharray="2.6,1.8" fill="none"/>
<path d="M338.5,163 V294" stroke="#555" stroke-width="0.75" stroke-dasharray="2.6,1.8" fill="none"/>
<rect x="223.5" y="160.5" width="157" height="134" fill="none" stroke="#8a8a8a" stroke-width="1"/>
<path d="M243.12,294.5 v-2 M282.38,294.5 v-2 M321.62,294.5 v-2 M360.88,294.5 v-2 M223.5,294.5 v-3 M262.75,294.5 v-3 M302,294.5 v-3 M341.25,294.5 v-3 M380.5,294.5 v-3" stroke="#8a8a8a" stroke-width="0.8" fill="none"/>
<text transform="translate(223.5,305.8) scale(0.83,1)" font-size="11.3" fill="#222222" text-anchor="middle">536</text>
<text transform="translate(262.75,305.8) scale(0.83,1)" font-size="11.3" fill="#222222" text-anchor="middle">534</text>
<text transform="translate(302,305.8) scale(0.83,1)" font-size="11.3" fill="#222222" text-anchor="middle">532</text>
<text transform="translate(341.25,305.8) scale(0.83,1)" font-size="11.3" fill="#222222" text-anchor="middle">530</text>
<text transform="translate(380.5,305.8) scale(0.83,1)" font-size="11.3" fill="#222222" text-anchor="middle">528</text>
<text x="227.2" y="182" font-size="7.6" fill="#222222">V<tspan font-size="4.26" dy="1.98">2</tspan><tspan dy="-1.98">O</tspan><tspan font-size="4.26" dy="1.98">3</tspan><tspan dy="-1.98">@PC-950</tspan></text>
<text x="227.2" y="227" font-size="7.6" fill="#222222">V<tspan font-size="4.26" dy="1.98">2</tspan><tspan dy="-1.98">O</tspan><tspan font-size="4.26" dy="1.98">3</tspan><tspan dy="-1.98">@PC-850</tspan></text>
<text x="227.2" y="263.4" font-size="7.6" fill="#222222">V<tspan font-size="4.26" dy="1.98">2</tspan><tspan dy="-1.98">O</tspan><tspan font-size="4.26" dy="1.98">3</tspan><tspan dy="-1.98">@PC-750</tspan></text>
<text x="290" y="175.9" font-size="8.8" font-weight="bold" fill="#3a4aa8">C-V-O<tspan font-size="6" dy="2.4">x</tspan></text>
<text x="316.8" y="168.8" font-size="8.6" fill="#e53030" text-anchor="start" font-weight="bold" >V-O</text>
<text x="251.4" y="275.8" font-size="9.0" font-weight="bold" fill="#2e9a3e">C-V-(OH)<tspan font-size="6" dy="2.4">x</tspan></text>
<text x="360" y="170.8" font-size="8.8" fill="#222" text-anchor="start" font-weight="bold" >O 1s</text>
<text transform="translate(302.4,320.4) scale(0.92,1)" font-size="10.3" fill="#222222" text-anchor="middle">Binding energy (eV)</text>
<text x="202.2" y="173.5" font-size="13.6" fill="#222222" text-anchor="start" font-weight="normal" >(c)</text>
<text transform="translate(212.9,225.7) rotate(-90) scale(0.88,1)" font-size="10.4" fill="#222222" text-anchor="middle">Intensity (a.u.)</text>
<path d="M34.5,366.6 56,366.4 82.6,365.5 106.1,366.5 116.2,366.7 190.8,367 34.5,366.6Z" fill="#5cb2e2" fill-opacity="1"/>
<path d="M59.5,366.3 82.6,365.5 106.1,366.5" fill="none" stroke="#5cb2e2" stroke-width="0.6"/>
<path d="M34.5,366.5 73.6,366.4 95.1,366.2 108.1,365.5 112.1,365 115.2,364.4 117.7,363.4 119.7,362.2 121.7,360.3 123.2,358.4 124.7,356 126.2,353.1 131.7,340.6 133.2,338.3 134.2,337.5 134.7,337.4 135.7,337.5 136.7,337.9 138.7,339.5 141.2,342.5 147.2,351.3 150.7,355.8 154.2,359.2 156.2,360.7 158.2,361.9 160.2,362.8 162.7,363.7 168.8,364.9 177.3,365.7 190.8,366.2 190.8,367 34.5,366.6Z" fill="#f5abb0" fill-opacity="1"/>
<path d="M78.6,366.4 96.1,366.1 107.1,365.6 113.7,364.8 115.7,364.2 117.7,363.4 119.2,362.5 120.7,361.3 122.2,359.7 123.7,357.6 126.7,352 131.7,340.6 133.2,338.3 134.2,337.5 134.7,337.4 135.7,337.5 136.7,337.9 138.7,339.5 141.2,342.5 147.2,351.3 150.7,355.8 154.2,359.2 156.2,360.7 158.2,361.9 160.2,362.8 162.7,363.7 168.8,364.9 177.3,365.7 190.8,366.2" fill="none" stroke="#ef8a8f" stroke-width="0.7"/>
<path d="M34.5,366.6 82.6,366.5 91.1,366.4 96.6,366.1 100.6,365.6 104.1,364.7 107.6,363.4 115.2,359.8 117.2,359.2 119.2,359 121.2,359.2 123.2,359.9 130.7,363.5 133.7,364.6 137.2,365.6 140.7,366.1 145.2,366.5 152.2,366.7 190.8,367 34.5,366.6Z" fill="#9dca5f" fill-opacity="0.95"/>
<path d="M90.6,366.4 97.6,366 102.6,365.2 107.1,363.6 115.2,359.8 117.2,359.2 119.2,359 121.2,359.2 123.2,359.9 131.2,363.7 135.7,365.2 140.7,366.1 147.7,366.6" fill="none" stroke="#5d9a30" stroke-width="0.8"/>
<path d="M34.5,366.6 190.8,367" fill="none" stroke="#5cb2e2" stroke-width="1.4"/>
<path d="M83.8,364.1a1.6,1.6 0 1,0 -3.2,0a1.6,1.6 0 1,0 3.2,0M86.1,363.8a1.6,1.6 0 1,0 -3.2,0a1.6,1.6 0 1,0 3.2,0M88.4,363.4a1.6,1.6 0 1,0 -3.2,0a1.6,1.6 0 1,0 3.2,0M90.6,363a1.6,1.6 0 1,0 -3.2,0a1.6,1.6 0 1,0 3.2,0M92.8,362.4a1.6,1.6 0 1,0 -3.2,0a1.6,1.6 0 1,0 3.2,0M95,361.8a1.6,1.6 0 1,0 -3.2,0a1.6,1.6 0 1,0 3.2,0M97.2,361.1a1.6,1.6 0 1,0 -3.2,0a1.6,1.6 0 1,0 3.2,0M99.4,360.5a1.6,1.6 0 1,0 -3.2,0a1.6,1.6 0 1,0 3.2,0M101.4,359.5a1.6,1.6 0 1,0 -3.2,0a1.6,1.6 0 1,0 3.2,0M103.4,358.8a1.6,1.6 0 1,0 -3.2,0a1.6,1.6 0 1,0 3.2,0M105.4,357.8a1.6,1.6 0 1,0 -3.2,0a1.6,1.6 0 1,0 3.2,0M107.5,356.8a1.6,1.6 0 1,0 -3.2,0a1.6,1.6 0 1,0 3.2,0M109.7,355.9a1.6,1.6 0 1,0 -3.2,0a1.6,1.6 0 1,0 3.2,0M111.9,355.2a1.6,1.6 0 1,0 -3.2,0a1.6,1.6 0 1,0 3.2,0M114.1,354.5a1.6,1.6 0 1,0 -3.2,0a1.6,1.6 0 1,0 3.2,0M116,353.4a1.6,1.6 0 1,0 -3.2,0a1.6,1.6 0 1,0 3.2,0M117.9,352.7a1.6,1.6 0 1,0 -3.2,0a1.6,1.6 0 1,0 3.2,0M119.8,351.5a1.6,1.6 0 1,0 -3.2,0a1.6,1.6 0 1,0 3.2,0M121.6,350.2a1.6,1.6 0 1,0 -3.2,0a1.6,1.6 0 1,0 3.2,0M123.3,349.1a1.6,1.6 0 1,0 -3.2,0a1.6,1.6 0 1,0 3.2,0M124.7,347.5a1.6,1.6 0 1,0 -3.2,0a1.6,1.6 0 1,0 3.2,0M126.1,345.5a1.6,1.6 0 1,0 -3.2,0a1.6,1.6 0 1,0 3.2,0M127.3,344.2a1.6,1.6 0 1,0 -3.2,0a1.6,1.6 0 1,0 3.2,0M128.6,341.6a1.6,1.6 0 1,0 -3.2,0a1.6,1.6 0 1,0 3.2,0M129.9,340.2a1.6,1.6 0 1,0 -3.2,0a1.6,1.6 0 1,0 3.2,0M131.1,337.9a1.6,1.6 0 1,0 -3.2,0a1.6,1.6 0 1,0 3.2,0M132.6,335.6a1.6,1.6 0 1,0 -3.2,0a1.6,1.6 0 1,0 3.2,0M135.3,333.5a1.6,1.6 0 1,0 -3.2,0a1.6,1.6 0 1,0 3.2,0M139.6,333.7a1.6,1.6 0 1,0 -3.2,0a1.6,1.6 0 1,0 3.2,0M142.5,335.2a1.6,1.6 0 1,0 -3.2,0a1.6,1.6 0 1,0 3.2,0M145,337.1a1.6,1.6 0 1,0 -3.2,0a1.6,1.6 0 1,0 3.2,0M146.9,339.6a1.6,1.6 0 1,0 -3.2,0a1.6,1.6 0 1,0 3.2,0M148.2,341.3a1.6,1.6 0 1,0 -3.2,0a1.6,1.6 0 1,0 3.2,0M149.4,343.9a1.6,1.6 0 1,0 -3.2,0a1.6,1.6 0 1,0 3.2,0M150.6,345.6a1.6,1.6 0 1,0 -3.2,0a1.6,1.6 0 1,0 3.2,0M151.8,347.3a1.6,1.6 0 1,0 -3.2,0a1.6,1.6 0 1,0 3.2,0M152.9,349.8a1.6,1.6 0 1,0 -3.2,0a1.6,1.6 0 1,0 3.2,0M154.1,351.2a1.6,1.6 0 1,0 -3.2,0a1.6,1.6 0 1,0 3.2,0M155.2,353.1a1.6,1.6 0 1,0 -3.2,0a1.6,1.6 0 1,0 3.2,0M156.5,354.3a1.6,1.6 0 1,0 -3.2,0a1.6,1.6 0 1,0 3.2,0M157.8,356a1.6,1.6 0 1,0 -3.2,0a1.6,1.6 0 1,0 3.2,0M158.9,357.2a1.6,1.6 0 1,0 -3.2,0a1.6,1.6 0 1,0 3.2,0M160,359a1.6,1.6 0 1,0 -3.2,0a1.6,1.6 0 1,0 3.2,0M161.2,360.5a1.6,1.6 0 1,0 -3.2,0a1.6,1.6 0 1,0 3.2,0M162.8,361.6a1.6,1.6 0 1,0 -3.2,0a1.6,1.6 0 1,0 3.2,0M164.8,362.6a1.6,1.6 0 1,0 -3.2,0a1.6,1.6 0 1,0 3.2,0M166.9,363.5a1.6,1.6 0 1,0 -3.2,0a1.6,1.6 0 1,0 3.2,0M169.1,364.1a1.6,1.6 0 1,0 -3.2,0a1.6,1.6 0 1,0 3.2,0" fill="none" stroke="#9a9a9a" stroke-width="0.5"/>
<path d="M34.5,366.3 62.1,366 80.1,365 91.6,363.8 96.1,362.9 100.6,361.7 115.2,356.1 118.2,354.6 121.7,352.2 123.7,350.6 125.7,348.5 133.2,337.2 134.2,336.3 135.2,336 136.2,336.2 137.2,336.7 140.7,339.6 142.7,342.5 149.2,353.4 151.2,356.1 154.2,359.5 156.2,361.1 158.2,362.4 159.7,363.1 163.2,364.1 168.8,365.1 190.8,365.8" fill="none" stroke="#e83a38" stroke-width="1.2" stroke-linejoin="round"/>
<path d="M34.5,412.6 53,412.4 72.6,411.4 78.6,411.3 85.1,411.5 102.1,412.5 112.7,412.8 190.8,413.2 34.5,412.6Z" fill="#5cb2e2" fill-opacity="1"/>
<path d="M53.5,412.4 72.1,411.4 78.6,411.3 85.1,411.5 104.1,412.6" fill="none" stroke="#5cb2e2" stroke-width="0.6"/>
<path d="M34.5,412.5 72.6,412.5 93.6,412.2 106.6,411.5 110.6,411 113.7,410.3 116.2,409.3 118.2,408 120.2,406.1 121.7,404.1 123.2,401.6 124.7,398.5 130.7,383.9 132.2,381.7 132.7,381.2 133.7,381 134.7,381.2 135.7,381.7 136.7,382.6 138.2,384.2 140.2,387.1 146.7,397.3 150.2,401.9 153.7,405.4 157.2,407.8 159.7,409 162.2,409.8 168.3,411 177.3,411.8 190.8,412.4 190.8,413.2 34.5,412.6Z" fill="#f5abb0" fill-opacity="1"/>
<path d="M75.1,412.5 93.6,412.2 105.1,411.6 111.6,410.8 114.2,410.2 116.2,409.3 117.7,408.4 119.2,407.2 120.7,405.5 122.2,403.3 125.2,397.4 130.7,383.9 132.2,381.7 132.7,381.2 133.7,381 134.7,381.2 135.7,381.7 136.7,382.6 138.2,384.2 140.2,387.1 146.7,397.3 150.2,401.9 153.7,405.4 157.2,407.8 159.7,409 162.2,409.8 168.3,411 177.3,411.8 190.8,412.4" fill="none" stroke="#ef8a8f" stroke-width="0.7"/>
<path d="M34.5,412.6 82.6,412.6 91.1,412.5 96.6,412.2 100.6,411.7 104.1,410.9 107.6,409.6 115.2,406.2 117.2,405.6 119.2,405.4 121.2,405.6 123.2,406.2 130.7,409.7 133.7,410.9 137.2,411.8 140.7,412.3 145.2,412.6 152.2,412.8 190.8,413.2 34.5,412.6Z" fill="#9dca5f" fill-opacity="0.95"/>
<path d="M91.1,412.5 97.6,412.1 102.6,411.3 107.1,409.8 115.2,406.2 117.2,405.6 119.2,405.4 121.2,405.6 123.2,406.2 131.2,409.9 135.7,411.4 140.7,412.3 147.2,412.7" fill="none" stroke="#5d9a30" stroke-width="0.8"/>
<path d="M34.5,412.6 190.8,413.2" fill="none" stroke="#5cb2e2" stroke-width="1.4"/>
<path d="M81.5,410.1a1.6,1.6 0 1,0 -3.2,0a1.6,1.6 0 1,0 3.2,0M83.8,409.8a1.6,1.6 0 1,0 -3.2,0a1.6,1.6 0 1,0 3.2,0M86.1,409.5a1.6,1.6 0 1,0 -3.2,0a1.6,1.6 0 1,0 3.2,0M88.4,409.2a1.6,1.6 0 1,0 -3.2,0a1.6,1.6 0 1,0 3.2,0M90.6,408.8a1.6,1.6 0 1,0 -3.2,0a1.6,1.6 0 1,0 3.2,0M92.8,408.2a1.6,1.6 0 1,0 -3.2,0a1.6,1.6 0 1,0 3.2,0M95,407.9a1.6,1.6 0 1,0 -3.2,0a1.6,1.6 0 1,0 3.2,0M97.2,407a1.6,1.6 0 1,0 -3.2,0a1.6,1.6 0 1,0 3.2,0M99.3,406.5a1.6,1.6 0 1,0 -3.2,0a1.6,1.6 0 1,0 3.2,0M101.4,405.6a1.6,1.6 0 1,0 -3.2,0a1.6,1.6 0 1,0 3.2,0M103.5,404.5a1.6,1.6 0 1,0 -3.2,0a1.6,1.6 0 1,0 3.2,0M105.6,403.9a1.6,1.6 0 1,0 -3.2,0a1.6,1.6 0 1,0 3.2,0M107.7,403.1a1.6,1.6 0 1,0 -3.2,0a1.6,1.6 0 1,0 3.2,0M109.7,402.3a1.6,1.6 0 1,0 -3.2,0a1.6,1.6 0 1,0 3.2,0M111.7,401.3a1.6,1.6 0 1,0 -3.2,0a1.6,1.6 0 1,0 3.2,0M113.7,400.3a1.6,1.6 0 1,0 -3.2,0a1.6,1.6 0 1,0 3.2,0M115.4,399.2a1.6,1.6 0 1,0 -3.2,0a1.6,1.6 0 1,0 3.2,0M117.1,398a1.6,1.6 0 1,0 -3.2,0a1.6,1.6 0 1,0 3.2,0M118.6,395.9a1.6,1.6 0 1,0 -3.2,0a1.6,1.6 0 1,0 3.2,0M120,394.4a1.6,1.6 0 1,0 -3.2,0a1.6,1.6 0 1,0 3.2,0M121.3,393a1.6,1.6 0 1,0 -3.2,0a1.6,1.6 0 1,0 3.2,0M122.5,390.7a1.6,1.6 0 1,0 -3.2,0a1.6,1.6 0 1,0 3.2,0M123.6,389.1a1.6,1.6 0 1,0 -3.2,0a1.6,1.6 0 1,0 3.2,0M124.8,386.4a1.6,1.6 0 1,0 -3.2,0a1.6,1.6 0 1,0 3.2,0M126,384.8a1.6,1.6 0 1,0 -3.2,0a1.6,1.6 0 1,0 3.2,0M127.4,383.1a1.6,1.6 0 1,0 -3.2,0a1.6,1.6 0 1,0 3.2,0M128.9,381.2a1.6,1.6 0 1,0 -3.2,0a1.6,1.6 0 1,0 3.2,0M130.6,379.3a1.6,1.6 0 1,0 -3.2,0a1.6,1.6 0 1,0 3.2,0M133.7,377.4a1.6,1.6 0 1,0 -3.2,0a1.6,1.6 0 1,0 3.2,0M138.4,378a1.6,1.6 0 1,0 -3.2,0a1.6,1.6 0 1,0 3.2,0M141.2,380.5a1.6,1.6 0 1,0 -3.2,0a1.6,1.6 0 1,0 3.2,0M142.7,382.5a1.6,1.6 0 1,0 -3.2,0a1.6,1.6 0 1,0 3.2,0M144.1,384a1.6,1.6 0 1,0 -3.2,0a1.6,1.6 0 1,0 3.2,0M145.5,386.3a1.6,1.6 0 1,0 -3.2,0a1.6,1.6 0 1,0 3.2,0M146.9,388.8a1.6,1.6 0 1,0 -3.2,0a1.6,1.6 0 1,0 3.2,0M148.1,390.5a1.6,1.6 0 1,0 -3.2,0a1.6,1.6 0 1,0 3.2,0M149.2,392.2a1.6,1.6 0 1,0 -3.2,0a1.6,1.6 0 1,0 3.2,0M150.4,394.6a1.6,1.6 0 1,0 -3.2,0a1.6,1.6 0 1,0 3.2,0M151.6,396.2a1.6,1.6 0 1,0 -3.2,0a1.6,1.6 0 1,0 3.2,0M152.7,398.6a1.6,1.6 0 1,0 -3.2,0a1.6,1.6 0 1,0 3.2,0M153.9,399.6a1.6,1.6 0 1,0 -3.2,0a1.6,1.6 0 1,0 3.2,0M155.1,401.3a1.6,1.6 0 1,0 -3.2,0a1.6,1.6 0 1,0 3.2,0M156.3,402.6a1.6,1.6 0 1,0 -3.2,0a1.6,1.6 0 1,0 3.2,0M157.7,403.6a1.6,1.6 0 1,0 -3.2,0a1.6,1.6 0 1,0 3.2,0M158.8,405.5a1.6,1.6 0 1,0 -3.2,0a1.6,1.6 0 1,0 3.2,0M160.3,406.9a1.6,1.6 0 1,0 -3.2,0a1.6,1.6 0 1,0 3.2,0M161.9,408.1a1.6,1.6 0 1,0 -3.2,0a1.6,1.6 0 1,0 3.2,0M164,408.8a1.6,1.6 0 1,0 -3.2,0a1.6,1.6 0 1,0 3.2,0M166.1,409.4a1.6,1.6 0 1,0 -3.2,0a1.6,1.6 0 1,0 3.2,0M168.3,410a1.6,1.6 0 1,0 -3.2,0a1.6,1.6 0 1,0 3.2,0M170.5,410.5a1.6,1.6 0 1,0 -3.2,0a1.6,1.6 0 1,0 3.2,0" fill="none" stroke="#9a9a9a" stroke-width="0.5"/>
<path d="M34.5,412.2 62.6,411.8 81.6,410.8 87.6,410.2 92.6,409.5 98.1,408.3 103.1,406.9 107.6,405.2 112.1,403.2 115.2,401.4 117.2,399.8 119.7,397.2 121.2,395.3 127.7,384.6 131.2,380.8 132.2,380.2 133.2,380 134.2,380.4 135.2,381.1 137.2,383.5 141.2,389.1 147.2,399.1 149.7,402.7 153.2,406.1 156.2,408.1 159.7,409.6 163.7,410.5 167.8,411.1 175.3,411.6 190.8,412" fill="none" stroke="#e83a38" stroke-width="1.2" stroke-linejoin="round"/>
<path d="M34.5,457 53,457 78.6,456.4 112.7,457.6 190.8,458.4 34.5,457Z" fill="#5cb2e2" fill-opacity="1"/>
<path d="M57,456.9 78.6,456.4 100.6,457.3" fill="none" stroke="#5cb2e2" stroke-width="0.6"/>
<path d="M34.5,456.9 74.6,457.1 96.1,457 108.6,456.4 112.7,455.9 115.7,455.2 117.7,454.4 119.7,453.1 121.2,451.6 122.7,449.5 124.2,446.7 125.7,443.3 129.7,431.8 131.2,428 132.2,426.3 132.7,425.7 133.2,425.4 133.7,425.4 134.7,425.7 135.7,426.4 137.7,428.8 139.7,432.1 145.2,442.2 148.7,447.4 151.7,450.6 155.2,453.2 157.2,454.2 159.7,455.1 165.8,456.3 175.8,457.2 190.8,457.8 190.8,458.4 34.5,457Z" fill="#f5abb0" fill-opacity="1"/>
<path d="M81.6,457.1 97.6,456.9 108.1,456.5 114.2,455.6 116.2,455.1 118.2,454.2 119.7,453.1 121.2,451.6 122.7,449.5 123.7,447.7 126.2,442 129.7,431.8 131.2,428 132.2,426.3 132.7,425.7 133.2,425.4 133.7,425.4 134.7,425.7 135.7,426.4 137.7,428.8 139.7,432.1 145.2,442.2 148.7,447.4 151.7,450.6 155.2,453.2 157.2,454.2 159.7,455.1 165.8,456.3 175.8,457.2 190.8,457.8" fill="none" stroke="#ef8a8f" stroke-width="0.7"/>
<path d="M34.5,457 82.6,457.2 91.1,457.1 96.6,456.8 100.6,456.2 104.1,455.3 107.6,453.7 115.2,449.7 117.2,449 119.2,448.8 121.2,449 123.2,449.8 130.7,453.9 133.7,455.3 137.2,456.5 140.7,457.1 145.2,457.5 152.2,457.8 190.8,458.3 34.5,457Z" fill="#9dca5f" fill-opacity="0.95"/>
<path d="M89.1,457.2 97.1,456.8 100.1,456.3 102.6,455.7 107.1,454 115.2,449.7 117.2,449 119.2,448.8 121.2,449 123.2,449.8 131.2,454.2 135.7,456 138.2,456.7 141.2,457.2 149.2,457.7" fill="none" stroke="#5d9a30" stroke-width="0.8"/>
<path d="M34.5,457 190.8,458.4" fill="none" stroke="#5cb2e2" stroke-width="1.4"/>
<path d="M86.1,454.6a1.6,1.6 0 1,0 -3.2,0a1.6,1.6 0 1,0 3.2,0M88.4,454.1a1.6,1.6 0 1,0 -3.2,0a1.6,1.6 0 1,0 3.2,0M90.6,453.8a1.6,1.6 0 1,0 -3.2,0a1.6,1.6 0 1,0 3.2,0M92.9,453.2a1.6,1.6 0 1,0 -3.2,0a1.6,1.6 0 1,0 3.2,0M95.1,452.7a1.6,1.6 0 1,0 -3.2,0a1.6,1.6 0 1,0 3.2,0M97.2,452a1.6,1.6 0 1,0 -3.2,0a1.6,1.6 0 1,0 3.2,0M99.4,451.5a1.6,1.6 0 1,0 -3.2,0a1.6,1.6 0 1,0 3.2,0M101.5,450.5a1.6,1.6 0 1,0 -3.2,0a1.6,1.6 0 1,0 3.2,0M103.6,449.9a1.6,1.6 0 1,0 -3.2,0a1.6,1.6 0 1,0 3.2,0M105.7,448.7a1.6,1.6 0 1,0 -3.2,0a1.6,1.6 0 1,0 3.2,0M107.8,448a1.6,1.6 0 1,0 -3.2,0a1.6,1.6 0 1,0 3.2,0M109.9,447.4a1.6,1.6 0 1,0 -3.2,0a1.6,1.6 0 1,0 3.2,0M112.1,446.4a1.6,1.6 0 1,0 -3.2,0a1.6,1.6 0 1,0 3.2,0M114.1,445.7a1.6,1.6 0 1,0 -3.2,0a1.6,1.6 0 1,0 3.2,0M116.1,445a1.6,1.6 0 1,0 -3.2,0a1.6,1.6 0 1,0 3.2,0M117.9,443.9a1.6,1.6 0 1,0 -3.2,0a1.6,1.6 0 1,0 3.2,0M119.5,442.7a1.6,1.6 0 1,0 -3.2,0a1.6,1.6 0 1,0 3.2,0M120.9,441.3a1.6,1.6 0 1,0 -3.2,0a1.6,1.6 0 1,0 3.2,0M122.2,439.6a1.6,1.6 0 1,0 -3.2,0a1.6,1.6 0 1,0 3.2,0M123.4,437.3a1.6,1.6 0 1,0 -3.2,0a1.6,1.6 0 1,0 3.2,0M124.5,435.6a1.6,1.6 0 1,0 -3.2,0a1.6,1.6 0 1,0 3.2,0M125.4,433.3a1.6,1.6 0 1,0 -3.2,0a1.6,1.6 0 1,0 3.2,0M126.3,430.4a1.6,1.6 0 1,0 -3.2,0a1.6,1.6 0 1,0 3.2,0M127.4,428.5a1.6,1.6 0 1,0 -3.2,0a1.6,1.6 0 1,0 3.2,0M128.7,426.8a1.6,1.6 0 1,0 -3.2,0a1.6,1.6 0 1,0 3.2,0M130.3,424.7a1.6,1.6 0 1,0 -3.2,0a1.6,1.6 0 1,0 3.2,0M132.7,422.8a1.6,1.6 0 1,0 -3.2,0a1.6,1.6 0 1,0 3.2,0M137.7,422.5a1.6,1.6 0 1,0 -3.2,0a1.6,1.6 0 1,0 3.2,0M140.9,425.4a1.6,1.6 0 1,0 -3.2,0a1.6,1.6 0 1,0 3.2,0M142.4,428.4a1.6,1.6 0 1,0 -3.2,0a1.6,1.6 0 1,0 3.2,0M143.6,429.9a1.6,1.6 0 1,0 -3.2,0a1.6,1.6 0 1,0 3.2,0M144.7,431.7a1.6,1.6 0 1,0 -3.2,0a1.6,1.6 0 1,0 3.2,0M146,434.5a1.6,1.6 0 1,0 -3.2,0a1.6,1.6 0 1,0 3.2,0M147.1,436.6a1.6,1.6 0 1,0 -3.2,0a1.6,1.6 0 1,0 3.2,0M148.1,438.8a1.6,1.6 0 1,0 -3.2,0a1.6,1.6 0 1,0 3.2,0M149,440.8a1.6,1.6 0 1,0 -3.2,0a1.6,1.6 0 1,0 3.2,0M150,442.1a1.6,1.6 0 1,0 -3.2,0a1.6,1.6 0 1,0 3.2,0M151.1,443.6a1.6,1.6 0 1,0 -3.2,0a1.6,1.6 0 1,0 3.2,0M152.3,445.5a1.6,1.6 0 1,0 -3.2,0a1.6,1.6 0 1,0 3.2,0M153.4,447.2a1.6,1.6 0 1,0 -3.2,0a1.6,1.6 0 1,0 3.2,0M154.7,448.4a1.6,1.6 0 1,0 -3.2,0a1.6,1.6 0 1,0 3.2,0M155.9,449.8a1.6,1.6 0 1,0 -3.2,0a1.6,1.6 0 1,0 3.2,0M156.8,451.7a1.6,1.6 0 1,0 -3.2,0a1.6,1.6 0 1,0 3.2,0M158.3,453a1.6,1.6 0 1,0 -3.2,0a1.6,1.6 0 1,0 3.2,0M160.2,454.2a1.6,1.6 0 1,0 -3.2,0a1.6,1.6 0 1,0 3.2,0M162.3,454.8a1.6,1.6 0 1,0 -3.2,0a1.6,1.6 0 1,0 3.2,0M164.4,455.4a1.6,1.6 0 1,0 -3.2,0a1.6,1.6 0 1,0 3.2,0" fill="none" stroke="#9a9a9a" stroke-width="0.5"/>
<path d="M34.5,456.8 63.6,456.4 81.6,455.7 87.6,455.1 93.1,454.3 99.1,453 103.6,451.8 114.7,447.7 117.7,446 120.2,444 122.2,441.7 124.7,437.6 125.7,435.5 127.2,431.6 128.2,429.7 129.7,427.6 131.2,425.9 132.2,425.2 133.2,425 133.7,425.2 134.7,425.9 136.7,428.5 140.7,435.3 144.7,443.3 147.7,447.8 149.2,449.7 150.7,451.2 152.7,452.8 154.2,453.8 156.7,454.9 159.2,455.6 166.8,456.9 173.8,457.2 190.8,457.6" fill="none" stroke="#e83a38" stroke-width="1.2" stroke-linejoin="round"/>
<path d="M82.7,352 V378" stroke="#555" stroke-width="0.75" stroke-dasharray="2.6,1.8" fill="none"/>
<path d="M79.4,392 V462" stroke="#555" stroke-width="0.75" stroke-dasharray="2.6,1.8" fill="none"/>
<path d="M120.3,346 V464" stroke="#555" stroke-width="0.75" stroke-dasharray="2.6,1.8" fill="none"/>
<path d="M135.4,334 V464" stroke="#555" stroke-width="0.75" stroke-dasharray="2.6,1.8" fill="none"/>
<rect x="34.5" y="330.5" width="156.3" height="134" fill="none" stroke="#8a8a8a" stroke-width="1"/>
<path d="M47.52,464.5 v-2 M73.58,464.5 v-2 M99.63,464.5 v-2 M125.68,464.5 v-2 M151.73,464.5 v-2 M177.78,464.5 v-2 M34.5,464.5 v-3 M60.55,464.5 v-3 M86.6,464.5 v-3 M112.65,464.5 v-3 M138.7,464.5 v-3 M164.75,464.5 v-3 M190.8,464.5 v-3" stroke="#8a8a8a" stroke-width="0.8" fill="none"/>
<text transform="translate(34.5,474.3) scale(0.83,1)" font-size="11.3" fill="#222222" text-anchor="middle">292</text>
<text transform="translate(60.55,474.3) scale(0.83,1)" font-size="11.3" fill="#222222" text-anchor="middle">290</text>
<text transform="translate(86.6,474.3) scale(0.83,1)" font-size="11.3" fill="#222222" text-anchor="middle">288</text>
<text transform="translate(112.65,474.3) scale(0.83,1)" font-size="11.3" fill="#222222" text-anchor="middle">286</text>
<text transform="translate(138.7,474.3) scale(0.83,1)" font-size="11.3" fill="#222222" text-anchor="middle">284</text>
<text transform="translate(164.75,474.3) scale(0.83,1)" font-size="11.3" fill="#222222" text-anchor="middle">282</text>
<text transform="translate(190.8,474.3) scale(0.83,1)" font-size="11.3" fill="#222222" text-anchor="middle">280</text>
<text x="36" y="348.6" font-size="7.6" fill="#222222">V<tspan font-size="4.26" dy="1.98">2</tspan><tspan dy="-1.98">O</tspan><tspan font-size="4.26" dy="1.98">3</tspan><tspan dy="-1.98">@PC-950</tspan></text>
<text x="36" y="400.2" font-size="7.6" fill="#222222">V<tspan font-size="4.26" dy="1.98">2</tspan><tspan dy="-1.98">O</tspan><tspan font-size="4.26" dy="1.98">3</tspan><tspan dy="-1.98">@PC-850</tspan></text>
<text x="36" y="442.6" font-size="7.6" fill="#222222">V<tspan font-size="4.26" dy="1.98">2</tspan><tspan dy="-1.98">O</tspan><tspan font-size="4.26" dy="1.98">3</tspan><tspan dy="-1.98">@PC-750</tspan></text>
<text x="83.4" y="357.9" font-size="8.0" fill="#3a4aa8" text-anchor="start" font-weight="bold" >C=O</text>
<text x="104.6" y="347.6" font-size="8.9" fill="#2e9a3e" text-anchor="start" font-weight="bold" >C-O</text>
<text x="141.6" y="339.8" font-size="8.9" fill="#e53030" text-anchor="start" font-weight="bold" >C-C</text>
<text x="172" y="341.3" font-size="8.8" fill="#222" text-anchor="start" font-weight="bold" >C 1s</text>
<text transform="translate(112.6,489.1) scale(0.92,1)" font-size="10.3" fill="#222222" text-anchor="middle">Binding energy (eV)</text>
<text x="13.2" y="342.8" font-size="13.6" fill="#222222" text-anchor="start" font-weight="normal" >(d)</text>
<text transform="translate(23.2,394) rotate(-90) scale(0.88,1)" font-size="10.4" fill="#222222" text-anchor="middle">Intensity (a.u.)</text>
<path d="M223.5,365.4 266,364.3 299,363.9 307.5,363.4 312,362.6 315.5,361.5 319,359.7 327,354.6 329,353.8 331,353.5 333,353.7 335,354.4 345,360.5 348,361.8 351.5,362.8 355,363.3 360,363.6 380.5,363.7 276,364.2 223.5,365.4Z" fill="#f3a2a6" fill-opacity="1"/>
<path d="M302.5,363.8 309.5,363.1 312,362.6 314.5,361.9 318.5,360 327,354.6 329,353.8 331,353.5 333,353.7 335.5,354.7 343.5,359.7 348,361.8 350.5,362.6 353,363 360,363.6" fill="none" stroke="#ec6f74" stroke-width="0.8"/>
<path d="M223.5,365.1 249.5,364.2 269,363.1 280,362 284,361.3 287,360.5 289.5,359.5 292,358.1 294,356.6 296,354.7 299.5,350.2 305,340.9 306.5,338.6 308,337.1 309.5,336.5 310.5,336.9 312,338.9 317,349.5 320,354.6 321.5,356.4 323.5,358.2 325.5,359.6 327.5,360.5 330,361.2 333.5,361.9 343,362.8 357.5,363.3 380.5,363.5 380.5,363.8 275,364.2 223.5,365.4Z" fill="#9dca5f" fill-opacity="1"/>
<path d="M226.5,365 252.5,364.1 270.5,363 281,361.9 284.5,361.2 287.5,360.3 290,359.3 292,358.1 294,356.6 296,354.7 299.5,350.2 305,340.9 306.5,338.6 308,337.1 309.5,336.5 310.5,336.9 312,338.9 317,349.5 320,354.6 321.5,356.4 323,357.8 325,359.3 327,360.3 329.5,361.1 332.5,361.8 341,362.7 354,363.3 374,363.5" fill="none" stroke="#72aa40" stroke-width="0.8"/>
<path d="M227,366.3a1.75,1.75 0 1,0 -3.5,0a1.75,1.75 0 1,0 3.5,0M229.8,366.7a1.75,1.75 0 1,0 -3.5,0a1.75,1.75 0 1,0 3.5,0M232.6,364a1.75,1.75 0 1,0 -3.5,0a1.75,1.75 0 1,0 3.5,0M235.4,362.5a1.75,1.75 0 1,0 -3.5,0a1.75,1.75 0 1,0 3.5,0M238.2,362.7a1.75,1.75 0 1,0 -3.5,0a1.75,1.75 0 1,0 3.5,0M241,362.1a1.75,1.75 0 1,0 -3.5,0a1.75,1.75 0 1,0 3.5,0M243.8,363.3a1.75,1.75 0 1,0 -3.5,0a1.75,1.75 0 1,0 3.5,0M246.6,362a1.75,1.75 0 1,0 -3.5,0a1.75,1.75 0 1,0 3.5,0M249.4,362.7a1.75,1.75 0 1,0 -3.5,0a1.75,1.75 0 1,0 3.5,0M252.2,362.7a1.75,1.75 0 1,0 -3.5,0a1.75,1.75 0 1,0 3.5,0M255,364.1a1.75,1.75 0 1,0 -3.5,0a1.75,1.75 0 1,0 3.5,0M257.8,365.6a1.75,1.75 0 1,0 -3.5,0a1.75,1.75 0 1,0 3.5,0M260.6,364.9a1.75,1.75 0 1,0 -3.5,0a1.75,1.75 0 1,0 3.5,0M263.4,363.2a1.75,1.75 0 1,0 -3.5,0a1.75,1.75 0 1,0 3.5,0M266.2,363a1.75,1.75 0 1,0 -3.5,0a1.75,1.75 0 1,0 3.5,0M269,363.4a1.75,1.75 0 1,0 -3.5,0a1.75,1.75 0 1,0 3.5,0M271.8,362.6a1.75,1.75 0 1,0 -3.5,0a1.75,1.75 0 1,0 3.5,0M274.6,362.2a1.75,1.75 0 1,0 -3.5,0a1.75,1.75 0 1,0 3.5,0M277.4,360.6a1.75,1.75 0 1,0 -3.5,0a1.75,1.75 0 1,0 3.5,0M280.1,361.3a1.75,1.75 0 1,0 -3.5,0a1.75,1.75 0 1,0 3.5,0M282.9,364.2a1.75,1.75 0 1,0 -3.5,0a1.75,1.75 0 1,0 3.5,0M285.6,359.4a1.75,1.75 0 1,0 -3.5,0a1.75,1.75 0 1,0 3.5,0M288.3,360.5a1.75,1.75 0 1,0 -3.5,0a1.75,1.75 0 1,0 3.5,0M290.8,359.9a1.75,1.75 0 1,0 -3.5,0a1.75,1.75 0 1,0 3.5,0M293.2,359.6a1.75,1.75 0 1,0 -3.5,0a1.75,1.75 0 1,0 3.5,0M295.2,354.4a1.75,1.75 0 1,0 -3.5,0a1.75,1.75 0 1,0 3.5,0M297.2,352.7a1.75,1.75 0 1,0 -3.5,0a1.75,1.75 0 1,0 3.5,0M299,350.4a1.75,1.75 0 1,0 -3.5,0a1.75,1.75 0 1,0 3.5,0M300.7,349.4a1.75,1.75 0 1,0 -3.5,0a1.75,1.75 0 1,0 3.5,0M302.3,347.2a1.75,1.75 0 1,0 -3.5,0a1.75,1.75 0 1,0 3.5,0M303.6,346.7a1.75,1.75 0 1,0 -3.5,0a1.75,1.75 0 1,0 3.5,0M304.9,343.3a1.75,1.75 0 1,0 -3.5,0a1.75,1.75 0 1,0 3.5,0M306.4,341.9a1.75,1.75 0 1,0 -3.5,0a1.75,1.75 0 1,0 3.5,0M308,334.8a1.75,1.75 0 1,0 -3.5,0a1.75,1.75 0 1,0 3.5,0M310.5,333.2a1.75,1.75 0 1,0 -3.5,0a1.75,1.75 0 1,0 3.5,0M314.5,338.6a1.75,1.75 0 1,0 -3.5,0a1.75,1.75 0 1,0 3.5,0M316.4,341.5a1.75,1.75 0 1,0 -3.5,0a1.75,1.75 0 1,0 3.5,0M318.2,342.3a1.75,1.75 0 1,0 -3.5,0a1.75,1.75 0 1,0 3.5,0M319.7,345.2a1.75,1.75 0 1,0 -3.5,0a1.75,1.75 0 1,0 3.5,0M321.2,344.1a1.75,1.75 0 1,0 -3.5,0a1.75,1.75 0 1,0 3.5,0M322.9,347.8a1.75,1.75 0 1,0 -3.5,0a1.75,1.75 0 1,0 3.5,0M324.7,351.3a1.75,1.75 0 1,0 -3.5,0a1.75,1.75 0 1,0 3.5,0M327.1,351.3a1.75,1.75 0 1,0 -3.5,0a1.75,1.75 0 1,0 3.5,0M329.8,351.8a1.75,1.75 0 1,0 -3.5,0a1.75,1.75 0 1,0 3.5,0M332.7,352.5a1.75,1.75 0 1,0 -3.5,0a1.75,1.75 0 1,0 3.5,0M336.1,351.3a1.75,1.75 0 1,0 -3.5,0a1.75,1.75 0 1,0 3.5,0M338.1,352.7a1.75,1.75 0 1,0 -3.5,0a1.75,1.75 0 1,0 3.5,0M339.9,355.3a1.75,1.75 0 1,0 -3.5,0a1.75,1.75 0 1,0 3.5,0M341.6,358.9a1.75,1.75 0 1,0 -3.5,0a1.75,1.75 0 1,0 3.5,0M343.7,360.7a1.75,1.75 0 1,0 -3.5,0a1.75,1.75 0 1,0 3.5,0M346.1,363.1a1.75,1.75 0 1,0 -3.5,0a1.75,1.75 0 1,0 3.5,0M348.7,363a1.75,1.75 0 1,0 -3.5,0a1.75,1.75 0 1,0 3.5,0M351.3,363a1.75,1.75 0 1,0 -3.5,0a1.75,1.75 0 1,0 3.5,0M354.1,363.7a1.75,1.75 0 1,0 -3.5,0a1.75,1.75 0 1,0 3.5,0M356.9,362.4a1.75,1.75 0 1,0 -3.5,0a1.75,1.75 0 1,0 3.5,0M359.7,362.9a1.75,1.75 0 1,0 -3.5,0a1.75,1.75 0 1,0 3.5,0M362.5,360.5a1.75,1.75 0 1,0 -3.5,0a1.75,1.75 0 1,0 3.5,0M365.3,364.1a1.75,1.75 0 1,0 -3.5,0a1.75,1.75 0 1,0 3.5,0M368.1,361.5a1.75,1.75 0 1,0 -3.5,0a1.75,1.75 0 1,0 3.5,0M370.9,364.9a1.75,1.75 0 1,0 -3.5,0a1.75,1.75 0 1,0 3.5,0M373.7,363.6a1.75,1.75 0 1,0 -3.5,0a1.75,1.75 0 1,0 3.5,0M376.5,362a1.75,1.75 0 1,0 -3.5,0a1.75,1.75 0 1,0 3.5,0M379.3,361.2a1.75,1.75 0 1,0 -3.5,0a1.75,1.75 0 1,0 3.5,0" fill="none" stroke="#9c9c9c" stroke-width="0.55"/>
<path d="M223.5,364.8 255,364.1 271,363.5 280.5,362.5 284,361.8 287,360.9 290,359.8 292,358.7 294,357.2 296.5,354.7 300.5,349.9 304,343.1 307,338.6 308.5,337 309.5,336.6 310.5,337 311.5,337.9 314.5,341.6 317.5,346.2 319.5,348.4 321,349.8 322,350.3 324.5,351 331.5,351.8 333,352.9 339,359.1 340,359.8 343.5,361.3 347,362.4 350,362.8 380.5,363.4" fill="none" stroke="#e83a38" stroke-width="1.35" stroke-linejoin="round"/>
<path d="M223.5,365.4 277,364.2 380.5,363.8" fill="none" stroke="#8a7a3a" stroke-width="1.0"/>
<path d="M223.5,411.5 265,410.8 297,410.6 306,410.1 310,409.4 313.5,408.1 317,406.2 324.5,400.9 326.5,400.1 328.5,399.8 330.5,400.2 332.5,401.1 339.5,406 342.5,407.8 345,408.9 348,409.7 351.5,410.2 356.5,410.5 380.5,410.7 274,410.8 223.5,411.5Z" fill="#f3a2a6" fill-opacity="1"/>
<path d="M300.5,410.5 307,410 309.5,409.5 312,408.8 314,407.9 316.5,406.5 324.5,400.9 326.5,400.1 328.5,399.8 330.5,400.2 332.5,401.1 340.5,406.7 344.5,408.7 347,409.5 349.5,410 356,410.5" fill="none" stroke="#ec6f74" stroke-width="0.8"/>
<path d="M223.5,411.2 249.5,410.5 268,409.6 279,408.5 283,407.7 286,406.8 288.5,405.8 291,404.3 293,402.6 295,400.4 296.5,398.5 298.5,395.3 305,383 306.5,381.1 307.5,380.4 308,380.3 309,380.6 310.5,382.7 315.5,394.8 317,398 318.5,400.5 320,402.6 322,404.6 324,406.1 326,407.1 328.5,407.9 332,408.7 336.5,409.2 342,409.7 356.5,410.2 380.5,410.5 380.5,410.8 272.5,410.8 223.5,411.5Z" fill="#9dca5f" fill-opacity="1"/>
<path d="M223.5,411.2 249.5,410.5 268,409.6 279,408.5 283,407.7 286,406.8 288.5,405.8 291,404.3 293,402.6 295,400.4 296.5,398.5 298.5,395.3 305,383 306.5,381.1 307.5,380.4 308,380.3 309,380.6 310.5,382.7 315.5,394.8 317,398 318.5,400.5 320,402.6 321.5,404.2 323.5,405.8 325.5,406.8 328,407.8 331,408.5 335,409.1 340,409.5 353.5,410.2 374.5,410.5" fill="none" stroke="#72aa40" stroke-width="0.8"/>
<path d="M227,409.4a1.75,1.75 0 1,0 -3.5,0a1.75,1.75 0 1,0 3.5,0M229.8,411.2a1.75,1.75 0 1,0 -3.5,0a1.75,1.75 0 1,0 3.5,0M232.6,411.5a1.75,1.75 0 1,0 -3.5,0a1.75,1.75 0 1,0 3.5,0M235.4,408.6a1.75,1.75 0 1,0 -3.5,0a1.75,1.75 0 1,0 3.5,0M238.2,408.4a1.75,1.75 0 1,0 -3.5,0a1.75,1.75 0 1,0 3.5,0M241,410.6a1.75,1.75 0 1,0 -3.5,0a1.75,1.75 0 1,0 3.5,0M243.8,410.8a1.75,1.75 0 1,0 -3.5,0a1.75,1.75 0 1,0 3.5,0M246.6,409.8a1.75,1.75 0 1,0 -3.5,0a1.75,1.75 0 1,0 3.5,0M249.4,409a1.75,1.75 0 1,0 -3.5,0a1.75,1.75 0 1,0 3.5,0M252.2,410.8a1.75,1.75 0 1,0 -3.5,0a1.75,1.75 0 1,0 3.5,0M255,407.9a1.75,1.75 0 1,0 -3.5,0a1.75,1.75 0 1,0 3.5,0M257.8,409.3a1.75,1.75 0 1,0 -3.5,0a1.75,1.75 0 1,0 3.5,0M260.6,410a1.75,1.75 0 1,0 -3.5,0a1.75,1.75 0 1,0 3.5,0M263.4,412.3a1.75,1.75 0 1,0 -3.5,0a1.75,1.75 0 1,0 3.5,0M266.2,410.7a1.75,1.75 0 1,0 -3.5,0a1.75,1.75 0 1,0 3.5,0M269,411.8a1.75,1.75 0 1,0 -3.5,0a1.75,1.75 0 1,0 3.5,0M271.8,409.7a1.75,1.75 0 1,0 -3.5,0a1.75,1.75 0 1,0 3.5,0M274.6,408.3a1.75,1.75 0 1,0 -3.5,0a1.75,1.75 0 1,0 3.5,0M277.3,407.9a1.75,1.75 0 1,0 -3.5,0a1.75,1.75 0 1,0 3.5,0M280.1,410.6a1.75,1.75 0 1,0 -3.5,0a1.75,1.75 0 1,0 3.5,0M282.8,408.8a1.75,1.75 0 1,0 -3.5,0a1.75,1.75 0 1,0 3.5,0M285.4,405.9a1.75,1.75 0 1,0 -3.5,0a1.75,1.75 0 1,0 3.5,0M288,403.6a1.75,1.75 0 1,0 -3.5,0a1.75,1.75 0 1,0 3.5,0M290.5,404.7a1.75,1.75 0 1,0 -3.5,0a1.75,1.75 0 1,0 3.5,0M292.7,403.9a1.75,1.75 0 1,0 -3.5,0a1.75,1.75 0 1,0 3.5,0M294.6,400.2a1.75,1.75 0 1,0 -3.5,0a1.75,1.75 0 1,0 3.5,0M296.3,397.5a1.75,1.75 0 1,0 -3.5,0a1.75,1.75 0 1,0 3.5,0M298,396.7a1.75,1.75 0 1,0 -3.5,0a1.75,1.75 0 1,0 3.5,0M299.6,395.8a1.75,1.75 0 1,0 -3.5,0a1.75,1.75 0 1,0 3.5,0M301.1,390.2a1.75,1.75 0 1,0 -3.5,0a1.75,1.75 0 1,0 3.5,0M302.5,386.7a1.75,1.75 0 1,0 -3.5,0a1.75,1.75 0 1,0 3.5,0M303.9,385.4a1.75,1.75 0 1,0 -3.5,0a1.75,1.75 0 1,0 3.5,0M305.2,384.1a1.75,1.75 0 1,0 -3.5,0a1.75,1.75 0 1,0 3.5,0M306.6,382.4a1.75,1.75 0 1,0 -3.5,0a1.75,1.75 0 1,0 3.5,0M308.5,377.6a1.75,1.75 0 1,0 -3.5,0a1.75,1.75 0 1,0 3.5,0M312.4,381.7a1.75,1.75 0 1,0 -3.5,0a1.75,1.75 0 1,0 3.5,0M314.6,383.8a1.75,1.75 0 1,0 -3.5,0a1.75,1.75 0 1,0 3.5,0M316.4,384.9a1.75,1.75 0 1,0 -3.5,0a1.75,1.75 0 1,0 3.5,0M317.9,385.9a1.75,1.75 0 1,0 -3.5,0a1.75,1.75 0 1,0 3.5,0M319.4,391.7a1.75,1.75 0 1,0 -3.5,0a1.75,1.75 0 1,0 3.5,0M321,390.7a1.75,1.75 0 1,0 -3.5,0a1.75,1.75 0 1,0 3.5,0M322.5,395.7a1.75,1.75 0 1,0 -3.5,0a1.75,1.75 0 1,0 3.5,0M323.8,393.6a1.75,1.75 0 1,0 -3.5,0a1.75,1.75 0 1,0 3.5,0M326.1,393.3a1.75,1.75 0 1,0 -3.5,0a1.75,1.75 0 1,0 3.5,0M329,395.4a1.75,1.75 0 1,0 -3.5,0a1.75,1.75 0 1,0 3.5,0M332.1,393.4a1.75,1.75 0 1,0 -3.5,0a1.75,1.75 0 1,0 3.5,0M335.3,397.8a1.75,1.75 0 1,0 -3.5,0a1.75,1.75 0 1,0 3.5,0M337.9,397.8a1.75,1.75 0 1,0 -3.5,0a1.75,1.75 0 1,0 3.5,0M339.7,398.6a1.75,1.75 0 1,0 -3.5,0a1.75,1.75 0 1,0 3.5,0M341.5,400.5a1.75,1.75 0 1,0 -3.5,0a1.75,1.75 0 1,0 3.5,0M343.5,403.3a1.75,1.75 0 1,0 -3.5,0a1.75,1.75 0 1,0 3.5,0M345.4,406.4a1.75,1.75 0 1,0 -3.5,0a1.75,1.75 0 1,0 3.5,0M347.7,408.6a1.75,1.75 0 1,0 -3.5,0a1.75,1.75 0 1,0 3.5,0M350.3,405.7a1.75,1.75 0 1,0 -3.5,0a1.75,1.75 0 1,0 3.5,0M352.9,407.5a1.75,1.75 0 1,0 -3.5,0a1.75,1.75 0 1,0 3.5,0M355.6,407.3a1.75,1.75 0 1,0 -3.5,0a1.75,1.75 0 1,0 3.5,0M358.4,411.3a1.75,1.75 0 1,0 -3.5,0a1.75,1.75 0 1,0 3.5,0M361.1,407.6a1.75,1.75 0 1,0 -3.5,0a1.75,1.75 0 1,0 3.5,0M363.9,407.3a1.75,1.75 0 1,0 -3.5,0a1.75,1.75 0 1,0 3.5,0M366.7,407.5a1.75,1.75 0 1,0 -3.5,0a1.75,1.75 0 1,0 3.5,0M369.5,409.2a1.75,1.75 0 1,0 -3.5,0a1.75,1.75 0 1,0 3.5,0M372.3,411.7a1.75,1.75 0 1,0 -3.5,0a1.75,1.75 0 1,0 3.5,0M375.1,411.7a1.75,1.75 0 1,0 -3.5,0a1.75,1.75 0 1,0 3.5,0M377.9,411a1.75,1.75 0 1,0 -3.5,0a1.75,1.75 0 1,0 3.5,0M380.7,412.4a1.75,1.75 0 1,0 -3.5,0a1.75,1.75 0 1,0 3.5,0" fill="none" stroke="#9c9c9c" stroke-width="0.55"/>
<path d="M223.5,411 255,410.6 270.5,410.2 273.5,409.9 277.5,409.1 282,408.1 285.5,407 288,406 290.5,404.7 292,403.5 294,401.4 296.5,398.1 300.5,392.2 306.5,381.3 307.5,380.2 308,380 308.5,380.1 309.5,380.7 312.5,384.1 318.5,393.1 320.5,395.5 321.5,396.1 322,396.2 327,395.5 328.5,395.4 330.5,395.8 332.5,396.4 334,397.6 338,402 342,405.3 344.5,406.8 351,408.6 357.5,409.6 365,410 380.5,410.4" fill="none" stroke="#e83a38" stroke-width="1.35" stroke-linejoin="round"/>
<path d="M223.5,411.5 274.5,410.8 380.5,410.8" fill="none" stroke="#8a7a3a" stroke-width="1.0"/>
<path d="M223.5,455.8 291.5,455 304,454.6 309.5,454.2 314.5,453.5 320,452.6 333,449.7 336.5,449.3 340,449.1 343.5,449.2 347,449.7 360.5,452.5 366.5,453.6 373,454.3 380.5,454.7 380.5,455 277,455.2 223.5,455.8Z" fill="#f3a2a6" fill-opacity="1"/>
<path d="M298.5,454.8 306.5,454.4 313.5,453.7 319.5,452.7 333,449.7 336.5,449.3 340,449.1 343.5,449.2 347,449.7 360.5,452.5 366.5,453.6 373,454.3 380.5,454.7" fill="none" stroke="#ec6f74" stroke-width="0.8"/>
<path d="M223.5,455.5 250,454.8 268,454 279.5,452.9 283.5,452.2 286.5,451.3 289,450.3 291.5,449 293.5,447.5 295.5,445.6 297.5,443.2 299.5,440.3 305,430.9 306.5,428.7 308,427.2 309.5,426.6 310.5,427 312,428.9 317.5,440.6 320.5,445.6 322,447.4 324,449.2 326,450.5 328,451.5 330.5,452.2 334,453 343.5,453.9 358,454.5 380.5,454.7 380.5,455 277,455.2 223.5,455.8Z" fill="#9dca5f" fill-opacity="1"/>
<path d="M223.5,455.5 250,454.8 268,454 279.5,452.9 283.5,452.2 286.5,451.3 289,450.3 291.5,449 293.5,447.5 295.5,445.6 297.5,443.2 299.5,440.3 305,430.9 306.5,428.7 308,427.2 309.5,426.6 310.5,427 312,428.9 317.5,440.6 320.5,445.6 322,447.4 323.5,448.8 325.5,450.3 327.5,451.3 330,452.1 333,452.8 342,453.8 355.5,454.4 377,454.7" fill="none" stroke="#72aa40" stroke-width="0.8"/>
<path d="M227,456.8a1.75,1.75 0 1,0 -3.5,0a1.75,1.75 0 1,0 3.5,0M229.8,453.9a1.75,1.75 0 1,0 -3.5,0a1.75,1.75 0 1,0 3.5,0M232.6,453.1a1.75,1.75 0 1,0 -3.5,0a1.75,1.75 0 1,0 3.5,0M235.4,456.7a1.75,1.75 0 1,0 -3.5,0a1.75,1.75 0 1,0 3.5,0M238.2,455.7a1.75,1.75 0 1,0 -3.5,0a1.75,1.75 0 1,0 3.5,0M241,452.2a1.75,1.75 0 1,0 -3.5,0a1.75,1.75 0 1,0 3.5,0M243.8,455.2a1.75,1.75 0 1,0 -3.5,0a1.75,1.75 0 1,0 3.5,0M246.6,453.7a1.75,1.75 0 1,0 -3.5,0a1.75,1.75 0 1,0 3.5,0M249.4,453.7a1.75,1.75 0 1,0 -3.5,0a1.75,1.75 0 1,0 3.5,0M252.2,453.4a1.75,1.75 0 1,0 -3.5,0a1.75,1.75 0 1,0 3.5,0M255,452.5a1.75,1.75 0 1,0 -3.5,0a1.75,1.75 0 1,0 3.5,0M257.8,451.6a1.75,1.75 0 1,0 -3.5,0a1.75,1.75 0 1,0 3.5,0M260.6,452.8a1.75,1.75 0 1,0 -3.5,0a1.75,1.75 0 1,0 3.5,0M263.4,453.1a1.75,1.75 0 1,0 -3.5,0a1.75,1.75 0 1,0 3.5,0M266.2,455.8a1.75,1.75 0 1,0 -3.5,0a1.75,1.75 0 1,0 3.5,0M269,451.7a1.75,1.75 0 1,0 -3.5,0a1.75,1.75 0 1,0 3.5,0M271.8,455.5a1.75,1.75 0 1,0 -3.5,0a1.75,1.75 0 1,0 3.5,0M274.5,451.5a1.75,1.75 0 1,0 -3.5,0a1.75,1.75 0 1,0 3.5,0M277.3,451.8a1.75,1.75 0 1,0 -3.5,0a1.75,1.75 0 1,0 3.5,0M280,453.3a1.75,1.75 0 1,0 -3.5,0a1.75,1.75 0 1,0 3.5,0M282.7,452.6a1.75,1.75 0 1,0 -3.5,0a1.75,1.75 0 1,0 3.5,0M285.4,449.9a1.75,1.75 0 1,0 -3.5,0a1.75,1.75 0 1,0 3.5,0M288,447.2a1.75,1.75 0 1,0 -3.5,0a1.75,1.75 0 1,0 3.5,0M290.5,448.2a1.75,1.75 0 1,0 -3.5,0a1.75,1.75 0 1,0 3.5,0M292.9,446.3a1.75,1.75 0 1,0 -3.5,0a1.75,1.75 0 1,0 3.5,0M295,447.1a1.75,1.75 0 1,0 -3.5,0a1.75,1.75 0 1,0 3.5,0M297.1,441.8a1.75,1.75 0 1,0 -3.5,0a1.75,1.75 0 1,0 3.5,0M299,440.6a1.75,1.75 0 1,0 -3.5,0a1.75,1.75 0 1,0 3.5,0M300.8,440.9a1.75,1.75 0 1,0 -3.5,0a1.75,1.75 0 1,0 3.5,0M302.5,433.9a1.75,1.75 0 1,0 -3.5,0a1.75,1.75 0 1,0 3.5,0M303.9,433.2a1.75,1.75 0 1,0 -3.5,0a1.75,1.75 0 1,0 3.5,0M305.4,432.8a1.75,1.75 0 1,0 -3.5,0a1.75,1.75 0 1,0 3.5,0M306.9,430.2a1.75,1.75 0 1,0 -3.5,0a1.75,1.75 0 1,0 3.5,0M308.6,424.4a1.75,1.75 0 1,0 -3.5,0a1.75,1.75 0 1,0 3.5,0M311.6,423a1.75,1.75 0 1,0 -3.5,0a1.75,1.75 0 1,0 3.5,0M315.4,427.4a1.75,1.75 0 1,0 -3.5,0a1.75,1.75 0 1,0 3.5,0M316.9,434.1a1.75,1.75 0 1,0 -3.5,0a1.75,1.75 0 1,0 3.5,0M318.2,433.9a1.75,1.75 0 1,0 -3.5,0a1.75,1.75 0 1,0 3.5,0M319.5,438.2a1.75,1.75 0 1,0 -3.5,0a1.75,1.75 0 1,0 3.5,0M320.8,441.1a1.75,1.75 0 1,0 -3.5,0a1.75,1.75 0 1,0 3.5,0M322.3,440.1a1.75,1.75 0 1,0 -3.5,0a1.75,1.75 0 1,0 3.5,0M324.1,441.7a1.75,1.75 0 1,0 -3.5,0a1.75,1.75 0 1,0 3.5,0M326,446.4a1.75,1.75 0 1,0 -3.5,0a1.75,1.75 0 1,0 3.5,0M328.1,445.6a1.75,1.75 0 1,0 -3.5,0a1.75,1.75 0 1,0 3.5,0M330.7,444.5a1.75,1.75 0 1,0 -3.5,0a1.75,1.75 0 1,0 3.5,0M333.4,447.2a1.75,1.75 0 1,0 -3.5,0a1.75,1.75 0 1,0 3.5,0M336.2,445.7a1.75,1.75 0 1,0 -3.5,0a1.75,1.75 0 1,0 3.5,0M338.9,446.2a1.75,1.75 0 1,0 -3.5,0a1.75,1.75 0 1,0 3.5,0M341.7,445.5a1.75,1.75 0 1,0 -3.5,0a1.75,1.75 0 1,0 3.5,0M344.4,449.8a1.75,1.75 0 1,0 -3.5,0a1.75,1.75 0 1,0 3.5,0M347.1,451.2a1.75,1.75 0 1,0 -3.5,0a1.75,1.75 0 1,0 3.5,0M349.8,450.5a1.75,1.75 0 1,0 -3.5,0a1.75,1.75 0 1,0 3.5,0M352.6,452.4a1.75,1.75 0 1,0 -3.5,0a1.75,1.75 0 1,0 3.5,0M355.3,448.5a1.75,1.75 0 1,0 -3.5,0a1.75,1.75 0 1,0 3.5,0M358.1,449.9a1.75,1.75 0 1,0 -3.5,0a1.75,1.75 0 1,0 3.5,0M360.8,451.5a1.75,1.75 0 1,0 -3.5,0a1.75,1.75 0 1,0 3.5,0M363.6,454.3a1.75,1.75 0 1,0 -3.5,0a1.75,1.75 0 1,0 3.5,0M366.4,454.6a1.75,1.75 0 1,0 -3.5,0a1.75,1.75 0 1,0 3.5,0M369.1,452.2a1.75,1.75 0 1,0 -3.5,0a1.75,1.75 0 1,0 3.5,0M371.9,451.8a1.75,1.75 0 1,0 -3.5,0a1.75,1.75 0 1,0 3.5,0M374.7,453a1.75,1.75 0 1,0 -3.5,0a1.75,1.75 0 1,0 3.5,0M377.5,453.5a1.75,1.75 0 1,0 -3.5,0a1.75,1.75 0 1,0 3.5,0M380.3,455.9a1.75,1.75 0 1,0 -3.5,0a1.75,1.75 0 1,0 3.5,0" fill="none" stroke="#9c9c9c" stroke-width="0.55"/>
<path d="M223.5,455.2 255,454.5 270.5,453.8 276.5,452.8 286,450.4 289,449.3 291.5,448 293.5,446.5 296,444.2 300.5,439.2 307.5,428.1 308.5,427 309.5,426.5 310.5,427.1 311.5,428.5 314,432.7 317,438.5 318,440 321.5,443.7 323,445 324.5,445.8 328.5,446.9 334.5,447.9 346,450.3 352,451.3 365,453 380.5,454.4" fill="none" stroke="#e83a38" stroke-width="1.35" stroke-linejoin="round"/>
<path d="M223.5,455.8 277,455.2 380.5,455" fill="none" stroke="#8a7a3a" stroke-width="1.0"/>
<path d="M309.5,334 V452" stroke="#555" stroke-width="0.75" stroke-dasharray="2.6,1.8" fill="none"/>
<path d="M331.5,345 V456" stroke="#555" stroke-width="0.75" stroke-dasharray="2.6,1.8" fill="none"/>
<rect x="223.5" y="330.5" width="157" height="134" fill="none" stroke="#8a8a8a" stroke-width="1"/>
<path d="M251.54,464.5 v-2 M285.18,464.5 v-2 M318.82,464.5 v-2 M352.46,464.5 v-2 M234.71,464.5 v-3 M268.36,464.5 v-3 M302,464.5 v-3 M335.64,464.5 v-3 M369.29,464.5 v-3" stroke="#8a8a8a" stroke-width="0.8" fill="none"/>
<text transform="translate(234.71,474.3) scale(0.83,1)" font-size="11.3" fill="#222222" text-anchor="middle">408</text>
<text transform="translate(268.36,474.3) scale(0.83,1)" font-size="11.3" fill="#222222" text-anchor="middle">405</text>
<text transform="translate(302,474.3) scale(0.83,1)" font-size="11.3" fill="#222222" text-anchor="middle">402</text>
<text transform="translate(335.64,474.3) scale(0.83,1)" font-size="11.3" fill="#222222" text-anchor="middle">399</text>
<text transform="translate(369.29,474.3) scale(0.83,1)" font-size="11.3" fill="#222222" text-anchor="middle">396</text>
<text x="229.8" y="352.8" font-size="7.6" fill="#222222">V<tspan font-size="4.26" dy="1.98">2</tspan><tspan dy="-1.98">O</tspan><tspan font-size="4.26" dy="1.98">3</tspan><tspan dy="-1.98">@PC-950</tspan></text>
<text x="229.8" y="398.8" font-size="7.6" fill="#222222">V<tspan font-size="4.26" dy="1.98">2</tspan><tspan dy="-1.98">O</tspan><tspan font-size="4.26" dy="1.98">3</tspan><tspan dy="-1.98">@PC-850</tspan></text>
<text x="229.8" y="443.4" font-size="7.6" fill="#222222">V<tspan font-size="4.26" dy="1.98">2</tspan><tspan dy="-1.98">O</tspan><tspan font-size="4.26" dy="1.98">3</tspan><tspan dy="-1.98">@PC-750</tspan></text>
<text x="291.2" y="339.2" font-size="8.9" fill="#2e9a3e" text-anchor="start" font-weight="bold" >SA</text>
<text x="332.4" y="343.6" font-size="9.0" fill="#ef4a4a" text-anchor="start" font-weight="bold" >FS</text>
<text x="360.2" y="341.3" font-size="8.8" fill="#222" text-anchor="start" font-weight="bold" >N 1s</text>
<text transform="translate(302.4,489.1) scale(0.92,1)" font-size="10.3" fill="#222222" text-anchor="middle">Binding energy (eV)</text>
<text x="202.2" y="342.8" font-size="13.6" fill="#222222" text-anchor="start" font-weight="normal" >(e)</text>
<text transform="translate(212.9,394) rotate(-90) scale(0.88,1)" font-size="10.4" fill="#222222" text-anchor="middle">Intensity (a.u.)</text>
</svg></body></html>
